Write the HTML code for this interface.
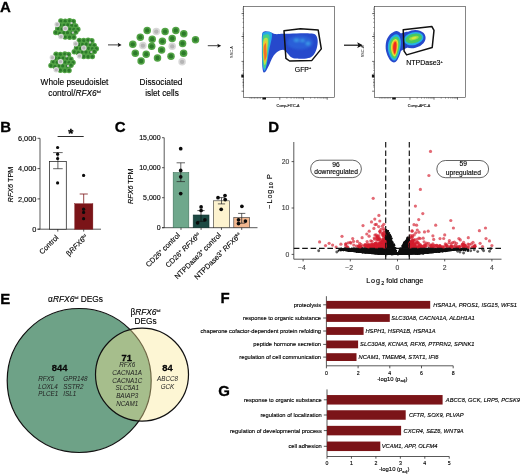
<!DOCTYPE html>
<html lang="en"><head><meta charset="utf-8"><title>Figure</title>
<style>
html,body{margin:0;padding:0;background:#fff;}
body{width:520px;height:474px;overflow:hidden;font-family:"Liberation Sans",Arial,sans-serif;}
svg{display:block}
svg text{font-family:"Liberation Sans",Arial,sans-serif;}
</style></head><body>
<svg width="520" height="474" viewBox="0 0 520 474">
<rect width="520" height="474" fill="#fff"/>
<g id="panelA">
<ellipse cx="66.8" cy="29" rx="11.5" ry="8.8" fill="#2f7f2c"/>
<circle cx="60.9" cy="21.1" r="2.75" fill="#52a345"/>
<circle cx="60.9" cy="21.1" r="1.59" fill="#2c7a2a"/>
<circle cx="65.2" cy="21.2" r="2.75" fill="#52a345"/>
<circle cx="65.2" cy="21.2" r="1.59" fill="#2c7a2a"/>
<circle cx="69.6" cy="20.8" r="2.75" fill="#52a345"/>
<circle cx="69.6" cy="20.8" r="1.59" fill="#2c7a2a"/>
<circle cx="73.3" cy="21.4" r="2.75" fill="#52a345"/>
<circle cx="73.3" cy="21.4" r="1.59" fill="#2c7a2a"/>
<circle cx="60.3" cy="25.0" r="2.75" fill="#52a345"/>
<circle cx="60.3" cy="25.0" r="1.59" fill="#2c7a2a"/>
<circle cx="64.1" cy="25.0" r="2.75" fill="#52a345"/>
<circle cx="64.1" cy="25.0" r="1.59" fill="#2c7a2a"/>
<circle cx="67.9" cy="24.8" r="2.75" fill="#52a345"/>
<circle cx="67.9" cy="24.8" r="1.59" fill="#2c7a2a"/>
<circle cx="71.8" cy="25.3" r="2.75" fill="#52a345"/>
<circle cx="71.8" cy="25.3" r="1.59" fill="#2c7a2a"/>
<circle cx="75.7" cy="26.0" r="2.75" fill="#52a345"/>
<circle cx="75.7" cy="26.0" r="1.59" fill="#2c7a2a"/>
<circle cx="58.1" cy="28.7" r="2.75" fill="#52a345"/>
<circle cx="58.1" cy="28.7" r="1.59" fill="#2c7a2a"/>
<circle cx="62.1" cy="29.1" r="2.75" fill="#52a345"/>
<circle cx="62.1" cy="29.1" r="1.59" fill="#2c7a2a"/>
<circle cx="70.1" cy="29.0" r="2.75" fill="#52a345"/>
<circle cx="70.1" cy="29.0" r="1.59" fill="#2c7a2a"/>
<circle cx="73.9" cy="29.3" r="2.75" fill="#52a345"/>
<circle cx="73.9" cy="29.3" r="1.59" fill="#2c7a2a"/>
<circle cx="77.8" cy="29.3" r="2.75" fill="#52a345"/>
<circle cx="77.8" cy="29.3" r="1.59" fill="#2c7a2a"/>
<circle cx="55.8" cy="32.4" r="2.75" fill="#52a345"/>
<circle cx="55.8" cy="32.4" r="1.59" fill="#2c7a2a"/>
<circle cx="59.8" cy="33.3" r="2.75" fill="#52a345"/>
<circle cx="59.8" cy="33.3" r="1.59" fill="#2c7a2a"/>
<circle cx="64.1" cy="32.6" r="2.75" fill="#52a345"/>
<circle cx="64.1" cy="32.6" r="1.59" fill="#2c7a2a"/>
<circle cx="67.5" cy="32.7" r="2.75" fill="#52a345"/>
<circle cx="67.5" cy="32.7" r="1.59" fill="#2c7a2a"/>
<circle cx="72.1" cy="32.9" r="2.75" fill="#52a345"/>
<circle cx="72.1" cy="32.9" r="1.59" fill="#2c7a2a"/>
<circle cx="75.8" cy="32.0" r="2.75" fill="#52a345"/>
<circle cx="75.8" cy="32.0" r="1.59" fill="#2c7a2a"/>
<circle cx="65.2" cy="37.0" r="2.75" fill="#52a345"/>
<circle cx="65.2" cy="37.0" r="1.59" fill="#2c7a2a"/>
<circle cx="69.6" cy="37.2" r="2.75" fill="#52a345"/>
<circle cx="69.6" cy="37.2" r="1.59" fill="#2c7a2a"/>
<circle cx="73.8" cy="37.2" r="2.75" fill="#52a345"/>
<circle cx="73.8" cy="37.2" r="1.59" fill="#2c7a2a"/>
<circle cx="57.2" cy="24.4" r="2.75" fill="#d8d8d8"/>
<circle cx="57.2" cy="24.4" r="1.59" fill="#b5b5b5"/>
<circle cx="65.3" cy="28.5" r="2.75" fill="#d8d8d8"/>
<circle cx="65.3" cy="28.5" r="1.59" fill="#b5b5b5"/>
<circle cx="61.0" cy="36.6" r="2.75" fill="#d8d8d8"/>
<circle cx="61.0" cy="36.6" r="1.59" fill="#b5b5b5"/>
<circle cx="72.8" cy="32.7" r="1.15" fill="#c8c8c8"/>
<circle cx="71.5" cy="23.1" r="1.15" fill="#c8c8c8"/>
<ellipse cx="85.3" cy="48.4" rx="11.5" ry="8.8" fill="#2f7f2c"/>
<circle cx="79.4" cy="40.5" r="2.75" fill="#52a345"/>
<circle cx="79.4" cy="40.5" r="1.59" fill="#2c7a2a"/>
<circle cx="83.7" cy="40.6" r="2.75" fill="#52a345"/>
<circle cx="83.7" cy="40.6" r="1.59" fill="#2c7a2a"/>
<circle cx="88.1" cy="40.2" r="2.75" fill="#52a345"/>
<circle cx="88.1" cy="40.2" r="1.59" fill="#2c7a2a"/>
<circle cx="91.8" cy="40.8" r="2.75" fill="#52a345"/>
<circle cx="91.8" cy="40.8" r="1.59" fill="#2c7a2a"/>
<circle cx="78.8" cy="44.4" r="2.75" fill="#52a345"/>
<circle cx="78.8" cy="44.4" r="1.59" fill="#2c7a2a"/>
<circle cx="82.6" cy="44.4" r="2.75" fill="#52a345"/>
<circle cx="82.6" cy="44.4" r="1.59" fill="#2c7a2a"/>
<circle cx="86.4" cy="44.2" r="2.75" fill="#52a345"/>
<circle cx="86.4" cy="44.2" r="1.59" fill="#2c7a2a"/>
<circle cx="90.3" cy="44.7" r="2.75" fill="#52a345"/>
<circle cx="90.3" cy="44.7" r="1.59" fill="#2c7a2a"/>
<circle cx="94.2" cy="45.4" r="2.75" fill="#52a345"/>
<circle cx="94.2" cy="45.4" r="1.59" fill="#2c7a2a"/>
<circle cx="76.6" cy="48.1" r="2.75" fill="#52a345"/>
<circle cx="76.6" cy="48.1" r="1.59" fill="#2c7a2a"/>
<circle cx="80.6" cy="48.5" r="2.75" fill="#52a345"/>
<circle cx="80.6" cy="48.5" r="1.59" fill="#2c7a2a"/>
<circle cx="88.6" cy="48.4" r="2.75" fill="#52a345"/>
<circle cx="88.6" cy="48.4" r="1.59" fill="#2c7a2a"/>
<circle cx="92.4" cy="48.7" r="2.75" fill="#52a345"/>
<circle cx="92.4" cy="48.7" r="1.59" fill="#2c7a2a"/>
<circle cx="96.3" cy="48.7" r="2.75" fill="#52a345"/>
<circle cx="96.3" cy="48.7" r="1.59" fill="#2c7a2a"/>
<circle cx="74.3" cy="51.8" r="2.75" fill="#52a345"/>
<circle cx="74.3" cy="51.8" r="1.59" fill="#2c7a2a"/>
<circle cx="78.3" cy="52.7" r="2.75" fill="#52a345"/>
<circle cx="78.3" cy="52.7" r="1.59" fill="#2c7a2a"/>
<circle cx="82.6" cy="52.0" r="2.75" fill="#52a345"/>
<circle cx="82.6" cy="52.0" r="1.59" fill="#2c7a2a"/>
<circle cx="86.0" cy="52.1" r="2.75" fill="#52a345"/>
<circle cx="86.0" cy="52.1" r="1.59" fill="#2c7a2a"/>
<circle cx="90.6" cy="52.3" r="2.75" fill="#52a345"/>
<circle cx="90.6" cy="52.3" r="1.59" fill="#2c7a2a"/>
<circle cx="94.3" cy="51.4" r="2.75" fill="#52a345"/>
<circle cx="94.3" cy="51.4" r="1.59" fill="#2c7a2a"/>
<circle cx="83.7" cy="56.4" r="2.75" fill="#52a345"/>
<circle cx="83.7" cy="56.4" r="1.59" fill="#2c7a2a"/>
<circle cx="88.1" cy="56.6" r="2.75" fill="#52a345"/>
<circle cx="88.1" cy="56.6" r="1.59" fill="#2c7a2a"/>
<circle cx="92.3" cy="56.6" r="2.75" fill="#52a345"/>
<circle cx="92.3" cy="56.6" r="1.59" fill="#2c7a2a"/>
<circle cx="75.7" cy="43.8" r="2.75" fill="#d8d8d8"/>
<circle cx="75.7" cy="43.8" r="1.59" fill="#b5b5b5"/>
<circle cx="83.8" cy="47.9" r="2.75" fill="#d8d8d8"/>
<circle cx="83.8" cy="47.9" r="1.59" fill="#b5b5b5"/>
<circle cx="79.5" cy="56.0" r="2.75" fill="#d8d8d8"/>
<circle cx="79.5" cy="56.0" r="1.59" fill="#b5b5b5"/>
<circle cx="91.3" cy="52.1" r="1.15" fill="#c8c8c8"/>
<circle cx="90.0" cy="42.5" r="1.15" fill="#c8c8c8"/>
<ellipse cx="62" cy="62.2" rx="11.5" ry="8.8" fill="#2f7f2c"/>
<circle cx="56.1" cy="54.3" r="2.75" fill="#52a345"/>
<circle cx="56.1" cy="54.3" r="1.59" fill="#2c7a2a"/>
<circle cx="60.4" cy="54.4" r="2.75" fill="#52a345"/>
<circle cx="60.4" cy="54.4" r="1.59" fill="#2c7a2a"/>
<circle cx="64.8" cy="54.0" r="2.75" fill="#52a345"/>
<circle cx="64.8" cy="54.0" r="1.59" fill="#2c7a2a"/>
<circle cx="68.5" cy="54.6" r="2.75" fill="#52a345"/>
<circle cx="68.5" cy="54.6" r="1.59" fill="#2c7a2a"/>
<circle cx="55.5" cy="58.2" r="2.75" fill="#52a345"/>
<circle cx="55.5" cy="58.2" r="1.59" fill="#2c7a2a"/>
<circle cx="59.3" cy="58.2" r="2.75" fill="#52a345"/>
<circle cx="59.3" cy="58.2" r="1.59" fill="#2c7a2a"/>
<circle cx="63.1" cy="58.0" r="2.75" fill="#52a345"/>
<circle cx="63.1" cy="58.0" r="1.59" fill="#2c7a2a"/>
<circle cx="67.0" cy="58.5" r="2.75" fill="#52a345"/>
<circle cx="67.0" cy="58.5" r="1.59" fill="#2c7a2a"/>
<circle cx="70.9" cy="59.2" r="2.75" fill="#52a345"/>
<circle cx="70.9" cy="59.2" r="1.59" fill="#2c7a2a"/>
<circle cx="53.3" cy="61.9" r="2.75" fill="#52a345"/>
<circle cx="53.3" cy="61.9" r="1.59" fill="#2c7a2a"/>
<circle cx="57.3" cy="62.3" r="2.75" fill="#52a345"/>
<circle cx="57.3" cy="62.3" r="1.59" fill="#2c7a2a"/>
<circle cx="65.3" cy="62.2" r="2.75" fill="#52a345"/>
<circle cx="65.3" cy="62.2" r="1.59" fill="#2c7a2a"/>
<circle cx="69.1" cy="62.5" r="2.75" fill="#52a345"/>
<circle cx="69.1" cy="62.5" r="1.59" fill="#2c7a2a"/>
<circle cx="73.0" cy="62.5" r="2.75" fill="#52a345"/>
<circle cx="73.0" cy="62.5" r="1.59" fill="#2c7a2a"/>
<circle cx="51.0" cy="65.6" r="2.75" fill="#52a345"/>
<circle cx="51.0" cy="65.6" r="1.59" fill="#2c7a2a"/>
<circle cx="55.0" cy="66.5" r="2.75" fill="#52a345"/>
<circle cx="55.0" cy="66.5" r="1.59" fill="#2c7a2a"/>
<circle cx="59.3" cy="65.8" r="2.75" fill="#52a345"/>
<circle cx="59.3" cy="65.8" r="1.59" fill="#2c7a2a"/>
<circle cx="62.7" cy="65.9" r="2.75" fill="#52a345"/>
<circle cx="62.7" cy="65.9" r="1.59" fill="#2c7a2a"/>
<circle cx="67.3" cy="66.1" r="2.75" fill="#52a345"/>
<circle cx="67.3" cy="66.1" r="1.59" fill="#2c7a2a"/>
<circle cx="71.0" cy="65.2" r="2.75" fill="#52a345"/>
<circle cx="71.0" cy="65.2" r="1.59" fill="#2c7a2a"/>
<circle cx="60.4" cy="70.2" r="2.75" fill="#52a345"/>
<circle cx="60.4" cy="70.2" r="1.59" fill="#2c7a2a"/>
<circle cx="64.8" cy="70.4" r="2.75" fill="#52a345"/>
<circle cx="64.8" cy="70.4" r="1.59" fill="#2c7a2a"/>
<circle cx="69.0" cy="70.4" r="2.75" fill="#52a345"/>
<circle cx="69.0" cy="70.4" r="1.59" fill="#2c7a2a"/>
<circle cx="52.4" cy="57.6" r="2.75" fill="#d8d8d8"/>
<circle cx="52.4" cy="57.6" r="1.59" fill="#b5b5b5"/>
<circle cx="60.5" cy="61.7" r="2.75" fill="#d8d8d8"/>
<circle cx="60.5" cy="61.7" r="1.59" fill="#b5b5b5"/>
<circle cx="56.2" cy="69.8" r="2.75" fill="#d8d8d8"/>
<circle cx="56.2" cy="69.8" r="1.59" fill="#b5b5b5"/>
<circle cx="68.0" cy="65.9" r="1.15" fill="#c8c8c8"/>
<circle cx="66.7" cy="56.3" r="1.15" fill="#c8c8c8"/>
<line x1="108" y1="44.9" x2="119.6" y2="44.9" stroke="#111" stroke-width="0.8"/>
<path d="M121.6,44.9 L117.69999999999999,42.85 L118.39999999999999,44.9 L117.69999999999999,46.949999999999996 Z" fill="#111"/>
<line x1="207.8" y1="45.7" x2="219.2" y2="45.7" stroke="#111" stroke-width="0.8"/>
<path d="M221.2,45.7 L217.29999999999998,43.650000000000006 L218.0,45.7 L217.29999999999998,47.75 Z" fill="#111"/>
<line x1="344" y1="45.2" x2="359.9" y2="45.2" stroke="#111" stroke-width="1.2"/>
<path d="M362.9,45.2 L357.2,42.300000000000004 L358.4,45.2 L357.2,48.1 Z" fill="#111"/>
<text x="74.5" y="85.3" font-size="8.3" text-anchor="middle" font-weight="normal" font-style="normal" fill="#000" stroke="#000" stroke-width="0.13" >Whole pseudoislet</text>
<text x="74.5" y="95.8" font-size="8.3" text-anchor="middle" font-weight="normal" font-style="normal" fill="#000" stroke="#000" stroke-width="0.13" >control/<tspan font-style="italic">RFX6</tspan><tspan font-size="3.8" dy="-3.0">kd</tspan></text>
<text x="161" y="85.3" font-size="8.3" text-anchor="middle" font-weight="normal" font-style="normal" fill="#000" stroke="#000" stroke-width="0.13" >Dissociated</text>
<text x="162" y="95.8" font-size="8.3" text-anchor="middle" font-weight="normal" font-style="normal" fill="#000" stroke="#000" stroke-width="0.13" >islet cells</text>
<circle cx="147.2" cy="30.4" r="3.75" fill="#52a345"/>
<circle cx="147.2" cy="30.4" r="2.17" fill="#2c7a2a"/>
<circle cx="165.1" cy="31.6" r="3.75" fill="#52a345"/>
<circle cx="165.1" cy="31.6" r="2.17" fill="#2c7a2a"/>
<circle cx="175.8" cy="30.4" r="3.75" fill="#52a345"/>
<circle cx="175.8" cy="30.4" r="2.17" fill="#2c7a2a"/>
<circle cx="183.8" cy="33.7" r="3.75" fill="#52a345"/>
<circle cx="183.8" cy="33.7" r="2.17" fill="#2c7a2a"/>
<circle cx="140.3" cy="37.2" r="3.75" fill="#52a345"/>
<circle cx="140.3" cy="37.2" r="2.17" fill="#2c7a2a"/>
<circle cx="152.2" cy="39.2" r="3.75" fill="#52a345"/>
<circle cx="152.2" cy="39.2" r="2.17" fill="#2c7a2a"/>
<circle cx="162.4" cy="41.3" r="3.75" fill="#52a345"/>
<circle cx="162.4" cy="41.3" r="2.17" fill="#2c7a2a"/>
<circle cx="172.2" cy="38.5" r="3.75" fill="#52a345"/>
<circle cx="172.2" cy="38.5" r="2.17" fill="#2c7a2a"/>
<circle cx="195.5" cy="39.7" r="3.75" fill="#52a345"/>
<circle cx="195.5" cy="39.7" r="2.17" fill="#2c7a2a"/>
<circle cx="132.8" cy="44.3" r="3.75" fill="#52a345"/>
<circle cx="132.8" cy="44.3" r="2.17" fill="#2c7a2a"/>
<circle cx="151.7" cy="46.3" r="3.75" fill="#52a345"/>
<circle cx="151.7" cy="46.3" r="2.17" fill="#2c7a2a"/>
<circle cx="182.6" cy="43.5" r="3.75" fill="#52a345"/>
<circle cx="182.6" cy="43.5" r="2.17" fill="#2c7a2a"/>
<circle cx="135.3" cy="53.2" r="3.75" fill="#52a345"/>
<circle cx="135.3" cy="53.2" r="2.17" fill="#2c7a2a"/>
<circle cx="146.2" cy="54.2" r="3.75" fill="#52a345"/>
<circle cx="146.2" cy="54.2" r="2.17" fill="#2c7a2a"/>
<circle cx="161.6" cy="50.1" r="3.75" fill="#52a345"/>
<circle cx="161.6" cy="50.1" r="2.17" fill="#2c7a2a"/>
<circle cx="183.6" cy="53.2" r="3.75" fill="#52a345"/>
<circle cx="183.6" cy="53.2" r="2.17" fill="#2c7a2a"/>
<circle cx="141.1" cy="61.0" r="3.75" fill="#52a345"/>
<circle cx="141.1" cy="61.0" r="2.17" fill="#2c7a2a"/>
<circle cx="157.5" cy="58.0" r="3.75" fill="#52a345"/>
<circle cx="157.5" cy="58.0" r="2.17" fill="#2c7a2a"/>
<circle cx="171.0" cy="56.2" r="3.75" fill="#52a345"/>
<circle cx="171.0" cy="56.2" r="2.17" fill="#2c7a2a"/>
<circle cx="156.3" cy="31.6" r="3.75" fill="#d8d8d8"/>
<circle cx="156.3" cy="31.6" r="2.17" fill="#b5b5b5"/>
<circle cx="142.9" cy="45.6" r="3.75" fill="#d8d8d8"/>
<circle cx="142.9" cy="45.6" r="2.17" fill="#b5b5b5"/>
<circle cx="172.2" cy="46.3" r="3.75" fill="#d8d8d8"/>
<circle cx="172.2" cy="46.3" r="2.17" fill="#b5b5b5"/>
<circle cx="182.1" cy="61.8" r="3.75" fill="#d8d8d8"/>
<circle cx="182.1" cy="61.8" r="2.17" fill="#b5b5b5"/>
<defs><filter id="bl" x="-20%" y="-20%" width="140%" height="140%"><feGaussianBlur stdDeviation="0.5"/></filter><filter id="bl2" x="-20%" y="-20%" width="140%" height="140%"><feGaussianBlur stdDeviation="0.9"/></filter></defs>
<rect x="243.7" y="6.6" width="91" height="90.9" fill="#fff" stroke="#222" stroke-width="0.55"/>
<g filter="url(#bl)">
<path d="M262.06,34.80 C262.46,32.25 263.11,32.07 264.34,31.57 C265.58,31.08 267.71,31.44 269.46,31.84 C271.21,32.25 272.60,33.66 274.84,34.00 C277.09,34.33 279.33,33.95 282.92,33.86 C286.51,33.77 291.89,33.53 296.38,33.46 C300.86,33.39 306.70,33.28 309.84,33.46 C312.98,33.64 313.92,33.41 315.22,34.54 C316.52,35.66 317.42,37.79 317.64,40.19 C317.87,42.59 317.42,46.29 316.57,48.94 C315.71,51.58 314.21,54.48 312.53,56.07 C310.85,57.66 309.16,58.09 306.47,58.49 C303.78,58.90 298.91,58.72 296.38,58.49 C293.84,58.27 292.72,58.00 291.26,57.15 C289.80,56.29 288.91,54.59 287.63,53.38 C286.35,52.17 285.27,50.15 283.59,49.88 C281.91,49.61 279.33,50.57 277.53,51.76 C275.74,52.95 274.28,54.68 272.82,57.01 C271.37,59.34 270.02,63.32 268.79,65.76 C267.55,68.21 266.39,70.79 265.42,71.68 C264.46,72.58 263.56,73.03 263.00,71.14 C262.44,69.26 262.24,64.41 262.06,60.38 C261.88,56.34 261.92,51.18 261.92,46.92 C261.92,42.66 261.65,37.36 262.06,34.80 Z" fill="#2748cc"/>
</g>
<g filter="url(#bl2)">
<ellipse cx="300" cy="42.5" rx="13" ry="7" fill="#2c5fd8"/>
<ellipse cx="296.5" cy="40.2" rx="2.8" ry="1.8" fill="#3a97e6"/>
<ellipse cx="302.5" cy="40.6" rx="2.4" ry="1.7" fill="#3a97e6"/>
<ellipse cx="308" cy="43.6" rx="2.4" ry="2" fill="#3a97e6"/>
</g>
<g filter="url(#bl)">
<path d="M262.33,35.75 C262.62,32.54 262.35,32.76 263.94,32.38 C265.53,32.00 271.01,30.48 271.88,33.46 C272.76,36.44 270.13,44.72 269.19,50.28 C268.25,55.85 267.04,63.41 266.23,66.84 C265.42,70.27 264.95,71.10 264.34,70.87 C263.74,70.65 262.95,68.70 262.59,65.49 C262.24,62.28 262.24,56.59 262.19,51.63 C262.15,46.67 262.03,38.95 262.33,35.75 Z" fill="#27a9e6"/>
<path d="M262.73,38.17 C263.02,35.37 263.22,35.19 264.34,34.80 C265.47,34.42 268.84,33.30 269.46,35.88 C270.08,38.46 268.56,45.53 268.05,50.28 C267.53,55.04 266.96,61.39 266.36,64.41 C265.77,67.44 265.04,68.68 264.48,68.45 C263.92,68.23 263.31,65.87 263.00,63.07 C262.68,60.26 262.64,55.78 262.59,51.63 C262.55,47.48 262.44,40.97 262.73,38.17 Z" fill="#43cf8a"/>
<path d="M263.13,41.53 C263.42,39.29 263.96,38.55 264.75,38.17 C265.53,37.79 267.42,37.23 267.84,39.25 C268.27,41.27 267.53,46.65 267.31,50.28 C267.08,53.92 266.95,58.58 266.50,61.05 C266.05,63.52 265.13,65.31 264.61,65.09 C264.10,64.86 263.67,61.95 263.40,59.70 C263.13,57.46 263.04,54.66 263.00,51.63 C262.95,48.60 262.84,43.78 263.13,41.53 Z" fill="#b7e04a"/>
<path d="M263.54,44.23 C263.83,42.43 264.61,41.24 265.15,40.86 C265.69,40.48 266.49,40.37 266.77,41.94 C267.05,43.51 266.86,47.55 266.83,50.28 C266.81,53.02 266.98,56.34 266.63,58.36 C266.28,60.38 265.22,62.62 264.75,62.40 C264.28,62.17 264.03,58.81 263.81,57.01 C263.58,55.22 263.45,53.76 263.40,51.63 C263.36,49.50 263.25,46.02 263.54,44.23 Z" fill="#f2c230"/>
<path d="M263.81,46.51 C264.10,45.08 265.06,43.53 265.42,43.15 C265.78,42.77 265.79,43.01 265.96,44.23 C266.13,45.44 266.32,48.40 266.43,50.42 C266.54,52.44 266.91,54.68 266.63,56.34 C266.35,58.00 265.17,60.60 264.75,60.38 C264.32,60.15 264.25,56.43 264.08,54.99 C263.90,53.56 263.72,53.18 263.67,51.76 C263.63,50.35 263.51,47.95 263.81,46.51 Z" fill="#f0702a"/>
</g>
<path d="M284.0,30.8 L300.4,28.7 L318.2,30.1 L321.3,48.9 L311.9,60.4 L289.6,61.0 L285.9,58.4 Z" fill="none" stroke="#111" stroke-width="1.5" stroke-linejoin="round"/>
<text x="294.8" y="71.8" font-size="6.9" text-anchor="start" font-weight="normal" font-style="normal" fill="#000" stroke="#000" stroke-width="0.13" >GFP<tspan font-size="3.8" dy="-2.6">+</tspan></text>
<line x1="241.5" y1="91.2" x2="243.7" y2="91.2" stroke="#111" stroke-width="0.6"/>
<line x1="242.5" y1="82.2" x2="243.7" y2="82.2" stroke="#111" stroke-width="0.4"/>
<line x1="242.5" y1="77.0" x2="243.7" y2="77.0" stroke="#111" stroke-width="0.4"/>
<line x1="242.5" y1="73.3" x2="243.7" y2="73.3" stroke="#111" stroke-width="0.4"/>
<line x1="242.5" y1="70.4" x2="243.7" y2="70.4" stroke="#111" stroke-width="0.4"/>
<line x1="242.5" y1="68.0" x2="243.7" y2="68.0" stroke="#111" stroke-width="0.4"/>
<line x1="242.5" y1="66.0" x2="243.7" y2="66.0" stroke="#111" stroke-width="0.4"/>
<line x1="242.5" y1="64.3" x2="243.7" y2="64.3" stroke="#111" stroke-width="0.4"/>
<line x1="242.5" y1="62.8" x2="243.7" y2="62.8" stroke="#111" stroke-width="0.4"/>
<line x1="241.5" y1="61.4" x2="243.7" y2="61.4" stroke="#111" stroke-width="0.6"/>
<line x1="242.5" y1="52.4" x2="243.7" y2="52.4" stroke="#111" stroke-width="0.4"/>
<line x1="242.5" y1="47.2" x2="243.7" y2="47.2" stroke="#111" stroke-width="0.4"/>
<line x1="242.5" y1="43.5" x2="243.7" y2="43.5" stroke="#111" stroke-width="0.4"/>
<line x1="242.5" y1="40.6" x2="243.7" y2="40.6" stroke="#111" stroke-width="0.4"/>
<line x1="242.5" y1="38.2" x2="243.7" y2="38.2" stroke="#111" stroke-width="0.4"/>
<line x1="242.5" y1="36.2" x2="243.7" y2="36.2" stroke="#111" stroke-width="0.4"/>
<line x1="242.5" y1="34.5" x2="243.7" y2="34.5" stroke="#111" stroke-width="0.4"/>
<line x1="242.5" y1="33.0" x2="243.7" y2="33.0" stroke="#111" stroke-width="0.4"/>
<line x1="241.5" y1="36.5" x2="243.7" y2="36.5" stroke="#111" stroke-width="0.6"/>
<line x1="242.5" y1="27.5" x2="243.7" y2="27.5" stroke="#111" stroke-width="0.4"/>
<line x1="242.5" y1="22.3" x2="243.7" y2="22.3" stroke="#111" stroke-width="0.4"/>
<line x1="242.5" y1="18.6" x2="243.7" y2="18.6" stroke="#111" stroke-width="0.4"/>
<line x1="242.5" y1="15.7" x2="243.7" y2="15.7" stroke="#111" stroke-width="0.4"/>
<line x1="242.5" y1="13.3" x2="243.7" y2="13.3" stroke="#111" stroke-width="0.4"/>
<line x1="242.5" y1="11.3" x2="243.7" y2="11.3" stroke="#111" stroke-width="0.4"/>
<line x1="242.5" y1="9.6" x2="243.7" y2="9.6" stroke="#111" stroke-width="0.4"/>
<line x1="242.5" y1="8.1" x2="243.7" y2="8.1" stroke="#111" stroke-width="0.4"/>
<line x1="241.5" y1="13.6" x2="243.7" y2="13.6" stroke="#111" stroke-width="0.6"/>
<rect x="241.29999999999998" y="74.5" width="2.4" height="3" fill="#111"/>
<line x1="242.5" y1="79.5" x2="243.7" y2="79.5" stroke="#111" stroke-width="0.4"/>
<line x1="242.5" y1="81.0" x2="243.7" y2="81.0" stroke="#111" stroke-width="0.4"/>
<line x1="242.5" y1="82.5" x2="243.7" y2="82.5" stroke="#111" stroke-width="0.4"/>
<line x1="242.5" y1="84.0" x2="243.7" y2="84.0" stroke="#111" stroke-width="0.4"/>
<line x1="242.5" y1="85.5" x2="243.7" y2="85.5" stroke="#111" stroke-width="0.4"/>
<line x1="242.5" y1="87.0" x2="243.7" y2="87.0" stroke="#111" stroke-width="0.4"/>
<line x1="279.8" y1="97.5" x2="279.8" y2="99.7" stroke="#111" stroke-width="0.6"/>
<line x1="286.9" y1="97.5" x2="286.9" y2="98.7" stroke="#111" stroke-width="0.4"/>
<line x1="291.1" y1="97.5" x2="291.1" y2="98.7" stroke="#111" stroke-width="0.4"/>
<line x1="294.1" y1="97.5" x2="294.1" y2="98.7" stroke="#111" stroke-width="0.4"/>
<line x1="296.4" y1="97.5" x2="296.4" y2="98.7" stroke="#111" stroke-width="0.4"/>
<line x1="298.2" y1="97.5" x2="298.2" y2="98.7" stroke="#111" stroke-width="0.4"/>
<line x1="299.8" y1="97.5" x2="299.8" y2="98.7" stroke="#111" stroke-width="0.4"/>
<line x1="301.2" y1="97.5" x2="301.2" y2="98.7" stroke="#111" stroke-width="0.4"/>
<line x1="302.4" y1="97.5" x2="302.4" y2="98.7" stroke="#111" stroke-width="0.4"/>
<line x1="303.5" y1="97.5" x2="303.5" y2="99.7" stroke="#111" stroke-width="0.6"/>
<line x1="310.6" y1="97.5" x2="310.6" y2="98.7" stroke="#111" stroke-width="0.4"/>
<line x1="314.8" y1="97.5" x2="314.8" y2="98.7" stroke="#111" stroke-width="0.4"/>
<line x1="317.8" y1="97.5" x2="317.8" y2="98.7" stroke="#111" stroke-width="0.4"/>
<line x1="320.1" y1="97.5" x2="320.1" y2="98.7" stroke="#111" stroke-width="0.4"/>
<line x1="321.9" y1="97.5" x2="321.9" y2="98.7" stroke="#111" stroke-width="0.4"/>
<line x1="323.5" y1="97.5" x2="323.5" y2="98.7" stroke="#111" stroke-width="0.4"/>
<line x1="324.9" y1="97.5" x2="324.9" y2="98.7" stroke="#111" stroke-width="0.4"/>
<line x1="326.1" y1="97.5" x2="326.1" y2="98.7" stroke="#111" stroke-width="0.4"/>
<line x1="327.2" y1="97.5" x2="327.2" y2="99.7" stroke="#111" stroke-width="0.6"/>
<rect x="262.4" y="97.5" width="3.6" height="2" fill="#111"/>
<line x1="260.5" y1="97.5" x2="260.5" y2="98.7" stroke="#111" stroke-width="0.4"/>
<line x1="259.0" y1="97.5" x2="259.0" y2="98.7" stroke="#111" stroke-width="0.4"/>
<line x1="257.5" y1="97.5" x2="257.5" y2="98.7" stroke="#111" stroke-width="0.4"/>
<line x1="256.0" y1="97.5" x2="256.0" y2="98.7" stroke="#111" stroke-width="0.4"/>
<line x1="254.5" y1="97.5" x2="254.5" y2="98.7" stroke="#111" stroke-width="0.4"/>
<line x1="253.0" y1="97.5" x2="253.0" y2="98.7" stroke="#111" stroke-width="0.4"/>
<line x1="251.5" y1="97.5" x2="251.5" y2="98.7" stroke="#111" stroke-width="0.4"/>
<line x1="250.0" y1="97.5" x2="250.0" y2="98.7" stroke="#111" stroke-width="0.4"/>
<text x="288" y="106.8" font-size="3.7" text-anchor="middle" font-weight="normal" font-style="normal" fill="#111" stroke="#111" stroke-width="0.13" >Comp-FITC-A</text>
<text transform="translate(233.3,52) rotate(-90)" font-size="3.9" text-anchor="middle" fill="#111">SSC-A</text>
<rect x="374.3" y="6.4" width="91.1" height="91.1" fill="#fff" stroke="#222" stroke-width="0.55"/>
<g filter="url(#bl)">
<path d="M391.78,33.02 C393.12,32.09 394.96,30.86 396.46,30.92 C397.96,30.98 399.74,32.05 400.77,33.38 C401.79,34.72 402.35,37.08 402.62,38.92 C402.88,40.77 402.62,42.57 402.37,44.46 C402.12,46.35 401.67,48.30 401.14,50.25 C400.61,52.19 399.91,54.39 399.17,56.15 C398.43,57.92 397.57,59.76 396.71,60.83 C395.85,61.90 394.96,62.51 394.00,62.55 C393.04,62.59 391.91,62.04 390.92,61.08 C389.94,60.11 388.89,58.41 388.09,56.77 C387.29,55.13 386.53,52.97 386.12,51.23 C385.71,49.49 385.59,48.05 385.63,46.31 C385.67,44.56 385.90,42.41 386.37,40.77 C386.84,39.13 387.56,37.75 388.46,36.46 C389.36,35.17 390.45,33.94 391.78,33.02 Z" fill="#2748cc"/>
<ellipse cx="413.45" cy="39.17" rx="12.31" ry="8.86" fill="#2748cc" transform="rotate(-14 413.45 39.17)"/>
<path d="M398.9,34.0 L407.5,31.5 L407.5,47.5 L400.2,51.2 Z" fill="#2748cc"/>
<path d="M392.57,36.10 C393.60,35.34 395.02,34.32 396.17,34.37 C397.32,34.42 398.69,35.30 399.47,36.41 C400.26,37.51 400.69,39.47 400.89,41.00 C401.10,42.53 400.89,44.03 400.70,45.59 C400.51,47.15 400.17,48.77 399.76,50.38 C399.35,52.00 398.81,53.82 398.25,55.28 C397.68,56.74 397.02,58.27 396.35,59.16 C395.69,60.04 395.02,60.55 394.27,60.58 C393.53,60.62 392.67,60.16 391.91,59.36 C391.15,58.56 390.35,57.15 389.74,55.79 C389.12,54.43 388.54,52.65 388.22,51.20 C387.91,49.76 387.81,48.56 387.85,47.12 C387.88,45.67 388.05,43.89 388.41,42.53 C388.78,41.17 389.33,40.03 390.02,38.96 C390.71,37.89 391.55,36.87 392.57,36.10 Z" fill="#25b0e8"/>
<ellipse cx="413.57" cy="38.68" rx="10.09" ry="6.40" fill="#25b0e8" transform="rotate(-14 413.57 38.68)"/>
<path d="M393.07,37.93 C393.88,37.28 395.00,36.42 395.92,36.46 C396.83,36.50 397.91,37.25 398.54,38.19 C399.16,39.12 399.50,40.77 399.66,42.06 C399.82,43.36 399.66,44.62 399.51,45.94 C399.36,47.27 399.09,48.63 398.76,50.00 C398.44,51.36 398.01,52.90 397.56,54.13 C397.11,55.37 396.59,56.66 396.07,57.41 C395.54,58.16 395.00,58.59 394.42,58.62 C393.83,58.64 393.14,58.26 392.54,57.58 C391.95,56.91 391.31,55.71 390.82,54.56 C390.33,53.41 389.87,51.91 389.62,50.68 C389.37,49.46 389.30,48.46 389.32,47.24 C389.35,46.02 389.49,44.51 389.77,43.36 C390.06,42.21 390.50,41.25 391.05,40.34 C391.60,39.44 392.26,38.57 393.07,37.93 Z" fill="#4fcf63"/>
<ellipse cx="413.69" cy="38.43" rx="8.37" ry="4.68" fill="#46c95e" transform="rotate(-14 413.69 38.43)"/>
<path d="M393.63,40.08 C394.19,39.57 394.97,38.89 395.60,38.92 C396.23,38.96 396.98,39.55 397.41,40.28 C397.84,41.02 398.07,42.32 398.18,43.34 C398.30,44.36 398.18,45.36 398.08,46.40 C397.98,47.45 397.79,48.52 397.56,49.60 C397.34,50.68 397.05,51.89 396.74,52.86 C396.43,53.84 396.06,54.86 395.70,55.45 C395.34,56.04 394.97,56.38 394.56,56.40 C394.16,56.42 393.68,56.12 393.27,55.58 C392.86,55.05 392.42,54.11 392.08,53.20 C391.74,52.30 391.43,51.11 391.25,50.14 C391.08,49.18 391.03,48.39 391.05,47.42 C391.06,46.46 391.16,45.27 391.36,44.36 C391.55,43.46 391.86,42.70 392.24,41.98 C392.62,41.27 393.07,40.59 393.63,40.08 Z" fill="#e8e436"/>
<ellipse cx="413.94" cy="38.06" rx="4.92" ry="1.97" fill="#9bdc46" transform="rotate(-14 413.94 38.06)"/>
<path d="M394.03,41.36 C394.43,40.94 394.99,40.37 395.45,40.40 C395.91,40.43 396.45,40.92 396.76,41.53 C397.07,42.14 397.24,43.23 397.32,44.07 C397.40,44.92 397.32,45.75 397.25,46.62 C397.17,47.48 397.04,48.38 396.87,49.27 C396.71,50.17 396.50,51.17 396.27,51.98 C396.05,52.79 395.79,53.64 395.53,54.13 C395.26,54.62 394.99,54.90 394.70,54.92 C394.41,54.94 394.06,54.69 393.76,54.24 C393.46,53.80 393.15,53.02 392.90,52.27 C392.66,51.51 392.43,50.52 392.30,49.72 C392.18,48.92 392.14,48.26 392.15,47.46 C392.17,46.66 392.24,45.67 392.38,44.92 C392.52,44.17 392.74,43.54 393.02,42.94 C393.29,42.35 393.62,41.78 394.03,41.36 Z" fill="#f59a25"/>
<ellipse cx="414.06" cy="37.94" rx="2.71" ry="0.98" fill="#dbe63a" transform="rotate(-14 414.06 37.94)"/>
<path d="M394.34,42.43 C394.60,42.08 394.96,41.61 395.26,41.63 C395.55,41.65 395.90,42.06 396.10,42.57 C396.30,43.08 396.41,43.98 396.46,44.68 C396.51,45.39 396.46,46.07 396.41,46.79 C396.37,47.51 396.28,48.26 396.17,49.00 C396.07,49.74 395.93,50.58 395.79,51.25 C395.64,51.92 395.47,52.63 395.31,53.04 C395.14,53.44 394.96,53.68 394.78,53.69 C394.59,53.71 394.37,53.50 394.17,53.13 C393.98,52.76 393.78,52.11 393.62,51.49 C393.46,50.86 393.32,50.04 393.23,49.37 C393.15,48.71 393.13,48.16 393.14,47.50 C393.15,46.83 393.19,46.01 393.28,45.39 C393.38,44.76 393.52,44.24 393.69,43.74 C393.87,43.25 394.08,42.78 394.34,42.43 Z" fill="#ee2a22"/>
</g>
<path d="M403.2,29.7 L431.8,26.4 L434.0,30.3 L432.2,47.5 L406.6,54.9 L404.1,51.2 Z" fill="none" stroke="#111" stroke-width="1.5" stroke-linejoin="round"/>
<text x="406.2" y="65.4" font-size="7.0" text-anchor="start" font-weight="normal" font-style="normal" fill="#000" stroke="#000" stroke-width="0.13" >NTPDase3<tspan font-size="3.8" dy="-2.6">+</tspan></text>
<line x1="372.1" y1="91.2" x2="374.3" y2="91.2" stroke="#111" stroke-width="0.6"/>
<line x1="373.1" y1="82.2" x2="374.3" y2="82.2" stroke="#111" stroke-width="0.4"/>
<line x1="373.1" y1="77.0" x2="374.3" y2="77.0" stroke="#111" stroke-width="0.4"/>
<line x1="373.1" y1="73.3" x2="374.3" y2="73.3" stroke="#111" stroke-width="0.4"/>
<line x1="373.1" y1="70.4" x2="374.3" y2="70.4" stroke="#111" stroke-width="0.4"/>
<line x1="373.1" y1="68.0" x2="374.3" y2="68.0" stroke="#111" stroke-width="0.4"/>
<line x1="373.1" y1="66.0" x2="374.3" y2="66.0" stroke="#111" stroke-width="0.4"/>
<line x1="373.1" y1="64.3" x2="374.3" y2="64.3" stroke="#111" stroke-width="0.4"/>
<line x1="373.1" y1="62.8" x2="374.3" y2="62.8" stroke="#111" stroke-width="0.4"/>
<line x1="372.1" y1="61.4" x2="374.3" y2="61.4" stroke="#111" stroke-width="0.6"/>
<line x1="373.1" y1="52.4" x2="374.3" y2="52.4" stroke="#111" stroke-width="0.4"/>
<line x1="373.1" y1="47.2" x2="374.3" y2="47.2" stroke="#111" stroke-width="0.4"/>
<line x1="373.1" y1="43.5" x2="374.3" y2="43.5" stroke="#111" stroke-width="0.4"/>
<line x1="373.1" y1="40.6" x2="374.3" y2="40.6" stroke="#111" stroke-width="0.4"/>
<line x1="373.1" y1="38.2" x2="374.3" y2="38.2" stroke="#111" stroke-width="0.4"/>
<line x1="373.1" y1="36.2" x2="374.3" y2="36.2" stroke="#111" stroke-width="0.4"/>
<line x1="373.1" y1="34.5" x2="374.3" y2="34.5" stroke="#111" stroke-width="0.4"/>
<line x1="373.1" y1="33.0" x2="374.3" y2="33.0" stroke="#111" stroke-width="0.4"/>
<line x1="372.1" y1="36.5" x2="374.3" y2="36.5" stroke="#111" stroke-width="0.6"/>
<line x1="373.1" y1="27.5" x2="374.3" y2="27.5" stroke="#111" stroke-width="0.4"/>
<line x1="373.1" y1="22.3" x2="374.3" y2="22.3" stroke="#111" stroke-width="0.4"/>
<line x1="373.1" y1="18.6" x2="374.3" y2="18.6" stroke="#111" stroke-width="0.4"/>
<line x1="373.1" y1="15.7" x2="374.3" y2="15.7" stroke="#111" stroke-width="0.4"/>
<line x1="373.1" y1="13.3" x2="374.3" y2="13.3" stroke="#111" stroke-width="0.4"/>
<line x1="373.1" y1="11.3" x2="374.3" y2="11.3" stroke="#111" stroke-width="0.4"/>
<line x1="373.1" y1="9.6" x2="374.3" y2="9.6" stroke="#111" stroke-width="0.4"/>
<line x1="373.1" y1="8.1" x2="374.3" y2="8.1" stroke="#111" stroke-width="0.4"/>
<line x1="372.1" y1="13.6" x2="374.3" y2="13.6" stroke="#111" stroke-width="0.6"/>
<rect x="371.90000000000003" y="74.5" width="2.4" height="3" fill="#111"/>
<line x1="373.1" y1="79.5" x2="374.3" y2="79.5" stroke="#111" stroke-width="0.4"/>
<line x1="373.1" y1="81.0" x2="374.3" y2="81.0" stroke="#111" stroke-width="0.4"/>
<line x1="373.1" y1="82.5" x2="374.3" y2="82.5" stroke="#111" stroke-width="0.4"/>
<line x1="373.1" y1="84.0" x2="374.3" y2="84.0" stroke="#111" stroke-width="0.4"/>
<line x1="373.1" y1="85.5" x2="374.3" y2="85.5" stroke="#111" stroke-width="0.4"/>
<line x1="373.1" y1="87.0" x2="374.3" y2="87.0" stroke="#111" stroke-width="0.4"/>
<line x1="410" y1="97.5" x2="410" y2="99.7" stroke="#111" stroke-width="0.6"/>
<line x1="417.2" y1="97.5" x2="417.2" y2="98.7" stroke="#111" stroke-width="0.4"/>
<line x1="421.5" y1="97.5" x2="421.5" y2="98.7" stroke="#111" stroke-width="0.4"/>
<line x1="424.4" y1="97.5" x2="424.4" y2="98.7" stroke="#111" stroke-width="0.4"/>
<line x1="426.8" y1="97.5" x2="426.8" y2="98.7" stroke="#111" stroke-width="0.4"/>
<line x1="428.7" y1="97.5" x2="428.7" y2="98.7" stroke="#111" stroke-width="0.4"/>
<line x1="430.3" y1="97.5" x2="430.3" y2="98.7" stroke="#111" stroke-width="0.4"/>
<line x1="431.7" y1="97.5" x2="431.7" y2="98.7" stroke="#111" stroke-width="0.4"/>
<line x1="432.9" y1="97.5" x2="432.9" y2="98.7" stroke="#111" stroke-width="0.4"/>
<line x1="434" y1="97.5" x2="434" y2="99.7" stroke="#111" stroke-width="0.6"/>
<line x1="441.2" y1="97.5" x2="441.2" y2="98.7" stroke="#111" stroke-width="0.4"/>
<line x1="445.5" y1="97.5" x2="445.5" y2="98.7" stroke="#111" stroke-width="0.4"/>
<line x1="448.4" y1="97.5" x2="448.4" y2="98.7" stroke="#111" stroke-width="0.4"/>
<line x1="450.8" y1="97.5" x2="450.8" y2="98.7" stroke="#111" stroke-width="0.4"/>
<line x1="452.7" y1="97.5" x2="452.7" y2="98.7" stroke="#111" stroke-width="0.4"/>
<line x1="454.3" y1="97.5" x2="454.3" y2="98.7" stroke="#111" stroke-width="0.4"/>
<line x1="455.7" y1="97.5" x2="455.7" y2="98.7" stroke="#111" stroke-width="0.4"/>
<line x1="456.9" y1="97.5" x2="456.9" y2="98.7" stroke="#111" stroke-width="0.4"/>
<line x1="457.5" y1="97.5" x2="457.5" y2="99.7" stroke="#111" stroke-width="0.6"/>
<rect x="392.2" y="97.5" width="3.6" height="2" fill="#111"/>
<line x1="390.3" y1="97.5" x2="390.3" y2="98.7" stroke="#111" stroke-width="0.4"/>
<line x1="388.8" y1="97.5" x2="388.8" y2="98.7" stroke="#111" stroke-width="0.4"/>
<line x1="387.3" y1="97.5" x2="387.3" y2="98.7" stroke="#111" stroke-width="0.4"/>
<line x1="385.8" y1="97.5" x2="385.8" y2="98.7" stroke="#111" stroke-width="0.4"/>
<line x1="384.3" y1="97.5" x2="384.3" y2="98.7" stroke="#111" stroke-width="0.4"/>
<line x1="382.8" y1="97.5" x2="382.8" y2="98.7" stroke="#111" stroke-width="0.4"/>
<line x1="381.3" y1="97.5" x2="381.3" y2="98.7" stroke="#111" stroke-width="0.4"/>
<line x1="379.8" y1="97.5" x2="379.8" y2="98.7" stroke="#111" stroke-width="0.4"/>
<text x="419" y="106.8" font-size="3.7" text-anchor="middle" font-weight="normal" font-style="normal" fill="#111" stroke="#111" stroke-width="0.13" >Comp-APC-A</text>
<text transform="translate(364,51.4) rotate(-90)" font-size="3.9" text-anchor="middle" fill="#111">SSC-A</text>
</g>
<text x="0.1" y="12.1" font-size="15" font-weight="bold" fill="#000" stroke="#000" stroke-width="0.3">A</text>
<g id="panelB">
<text x="0.2" y="131.9" font-size="15" font-weight="bold" fill="#000" stroke="#000" stroke-width="0.3">B</text>
<line x1="40.0" y1="138.29999999999998" x2="40.0" y2="229.2" stroke="#222" stroke-width="0.75"/>
<line x1="37.5" y1="229.2" x2="101" y2="229.2" stroke="#222" stroke-width="0.75"/>
<line x1="37.5" y1="138.29999999999998" x2="40.0" y2="138.29999999999998" stroke="#222" stroke-width="0.75"/>
<text x="36.4" y="140.89999999999998" font-size="7.4" text-anchor="end" font-weight="normal" font-style="normal" fill="#000" stroke="#000" stroke-width="0.13" >6,000</text>
<line x1="37.5" y1="168.6" x2="40.0" y2="168.6" stroke="#222" stroke-width="0.75"/>
<text x="36.4" y="171.2" font-size="7.4" text-anchor="end" font-weight="normal" font-style="normal" fill="#000" stroke="#000" stroke-width="0.13" >4,000</text>
<line x1="37.5" y1="198.89999999999998" x2="40.0" y2="198.89999999999998" stroke="#222" stroke-width="0.75"/>
<text x="36.4" y="201.49999999999997" font-size="7.4" text-anchor="end" font-weight="normal" font-style="normal" fill="#000" stroke="#000" stroke-width="0.13" >2,000</text>
<line x1="37.5" y1="229.2" x2="40.0" y2="229.2" stroke="#222" stroke-width="0.75"/>
<text x="36.4" y="231.79999999999998" font-size="7.4" text-anchor="end" font-weight="normal" font-style="normal" fill="#000" stroke="#000" stroke-width="0.13" >0</text>
<rect x="49.4" y="161.4" width="16.9" height="67.79999999999998" fill="#fff" stroke="#222" stroke-width="0.75"/>
<rect x="74.7" y="203.7" width="18.2" height="25.5" fill="#7b1418" stroke="#7b1418" stroke-width="0.4"/>
<line x1="57.8" y1="229.2" x2="57.8" y2="231.6" stroke="#222" stroke-width="0.75"/>
<line x1="83.7" y1="229.2" x2="83.7" y2="231.6" stroke="#222" stroke-width="0.75"/>
<path d="M53.1,152.6 H62.699999999999996 M57.9,152.6 V168.7 M53.1,168.7 H62.699999999999996" stroke="#222" stroke-width="0.7" fill="none"/>
<path d="M79.7,194 H87.8 M83.7,194 V203.7" stroke="#7b1418" stroke-width="0.8" fill="none"/>
<circle cx="57.6" cy="147.5" r="1.6" fill="#0a0a0a"/>
<circle cx="57.6" cy="154.2" r="1.6" fill="#0a0a0a"/>
<circle cx="57.6" cy="158.5" r="1.6" fill="#0a0a0a"/>
<circle cx="57.6" cy="182.9" r="1.6" fill="#0a0a0a"/>
<circle cx="83.6" cy="175.4" r="1.6" fill="#0a0a0a"/>
<circle cx="83.6" cy="209.2" r="1.6" fill="#0a0a0a"/>
<circle cx="83.6" cy="212.4" r="1.6" fill="#0a0a0a"/>
<circle cx="83.6" cy="218.7" r="1.6" fill="#0a0a0a"/>
<line x1="57.6" y1="136.5" x2="83.7" y2="136.5" stroke="#222" stroke-width="0.95"/>
<text x="70.7" y="137.6" font-size="13" text-anchor="middle" font-weight="bold" fill="#000" stroke="#000" stroke-width="0.35">*</text>
<text transform="translate(13.4,184.6) rotate(-90)" font-size="7.3" text-anchor="middle" fill="#000" stroke="#000" stroke-width="0.13"><tspan font-style="italic">RFX6</tspan> TPM</text>
<text transform="translate(58.9,238.0) rotate(-45)" font-size="7.3" text-anchor="end" fill="#000" stroke="#000" stroke-width="0.13">Control</text>
<text transform="translate(88.1,237.4) rotate(-45)" font-size="7.3" text-anchor="end" fill="#000" stroke="#000" stroke-width="0.13">β<tspan font-style="italic">RFX6</tspan><tspan font-size="3.8" dy="-2.7">kd</tspan></text>
</g>
<g id="panelC">
<text x="114.8" y="131.9" font-size="15" font-weight="bold" fill="#000" stroke="#000" stroke-width="0.3">C</text>
<line x1="164.2" y1="137.7" x2="164.2" y2="227.7" stroke="#222" stroke-width="0.75"/>
<line x1="162" y1="227.7" x2="257.5" y2="227.7" stroke="#222" stroke-width="0.75"/>
<line x1="162" y1="137.7" x2="164.2" y2="137.7" stroke="#222" stroke-width="0.75"/>
<text x="160.6" y="140.2" font-size="7.0" text-anchor="end" font-weight="normal" font-style="normal" fill="#000" stroke="#000" stroke-width="0.13" >15,000</text>
<line x1="162" y1="167.7" x2="164.2" y2="167.7" stroke="#222" stroke-width="0.75"/>
<text x="160.6" y="170.2" font-size="7.0" text-anchor="end" font-weight="normal" font-style="normal" fill="#000" stroke="#000" stroke-width="0.13" >10,000</text>
<line x1="162" y1="197.7" x2="164.2" y2="197.7" stroke="#222" stroke-width="0.75"/>
<text x="160.6" y="200.2" font-size="7.0" text-anchor="end" font-weight="normal" font-style="normal" fill="#000" stroke="#000" stroke-width="0.13" >5,000</text>
<line x1="162" y1="227.7" x2="164.2" y2="227.7" stroke="#222" stroke-width="0.75"/>
<text x="160.6" y="230.2" font-size="7.0" text-anchor="end" font-weight="normal" font-style="normal" fill="#000" stroke="#000" stroke-width="0.13" >0</text>
<rect x="173.2" y="172.6" width="15.6" height="55.1" fill="#6fa88c" stroke="#3d6f58" stroke-width="0.6"/>
<line x1="181.0" y1="227.7" x2="181.0" y2="229.89999999999998" stroke="#222" stroke-width="0.75"/>
<rect x="193.2" y="215.0" width="15.8" height="12.7" fill="#1d4a44" stroke="#12332f" stroke-width="0.6"/>
<line x1="201.1" y1="227.7" x2="201.1" y2="229.89999999999998" stroke="#222" stroke-width="0.75"/>
<rect x="213.3" y="200.8" width="16.3" height="26.9" fill="#fdf3cf" stroke="#333" stroke-width="0.6"/>
<line x1="221.45" y1="227.7" x2="221.45" y2="229.89999999999998" stroke="#222" stroke-width="0.75"/>
<rect x="233.8" y="217.5" width="15.8" height="10.2" fill="#f2b78f" stroke="#333" stroke-width="0.6"/>
<line x1="241.7" y1="227.7" x2="241.7" y2="229.89999999999998" stroke="#222" stroke-width="0.75"/>
<path d="M176.60000000000002,162.8 H185.0 M180.8,162.8 V181.6 M176.60000000000002,181.6 H185.0" stroke="#222" stroke-width="0.7" fill="none"/>
<path d="M197.4,210.6 H204.6 M201,210.6 V221.3 M197.4,221.3 H204.6" stroke="#111" stroke-width="0.7" fill="none"/>
<path d="M217.9,197.6 H225.1 M221.5,197.6 V203.9 M217.9,203.9 H225.1" stroke="#222" stroke-width="0.7" fill="none"/>
<path d="M238.1,213.4 H245.29999999999998 M241.7,213.4 V223.2 M238.1,223.2 H245.29999999999998" stroke="#222" stroke-width="0.7" fill="none"/>
<circle cx="180.7" cy="148.7" r="1.85" fill="#0a0a0a"/>
<circle cx="180.7" cy="170.4" r="1.85" fill="#0a0a0a"/>
<circle cx="180.7" cy="176.8" r="1.85" fill="#0a0a0a"/>
<circle cx="180.7" cy="193.6" r="1.85" fill="#0a0a0a"/>
<circle cx="201.1" cy="206.9" r="1.85" fill="#0a0a0a"/>
<circle cx="201.1" cy="210.5" r="1.85" fill="#0a0a0a"/>
<circle cx="204.9" cy="219.8" r="1.85" fill="#0a0a0a"/>
<circle cx="197.6" cy="222.8" r="1.85" fill="#0a0a0a"/>
<circle cx="218.0" cy="197.7" r="1.85" fill="#0a0a0a"/>
<circle cx="225.0" cy="195.5" r="1.85" fill="#0a0a0a"/>
<circle cx="225.2" cy="199.6" r="1.85" fill="#0a0a0a"/>
<circle cx="221.2" cy="209.3" r="1.85" fill="#0a0a0a"/>
<circle cx="241.9" cy="206.3" r="1.85" fill="#0a0a0a"/>
<circle cx="238.5" cy="219.8" r="1.85" fill="#0a0a0a"/>
<circle cx="245.4" cy="221.1" r="1.85" fill="#0a0a0a"/>
<circle cx="238.5" cy="223.6" r="1.85" fill="#0a0a0a"/>
<text transform="translate(133.2,186.2) rotate(-90)" font-size="7.2" text-anchor="middle" fill="#000" stroke="#000" stroke-width="0.13"><tspan font-style="italic">RFX6</tspan> TPM</text>
<text transform="translate(180.5,235.7) rotate(-45)" font-size="7.3" text-anchor="end" fill="#000" stroke="#000" stroke-width="0.13">CD26<tspan font-size="4" dy="-2.7">+</tspan><tspan dy="2.7"> control</tspan></text>
<text transform="translate(200.9,235.7) rotate(-45)" font-size="7.3" text-anchor="end" fill="#000" stroke="#000" stroke-width="0.13">CD26<tspan font-size="4" dy="-2.7">+</tspan><tspan dy="2.7"> </tspan><tspan font-style="italic">RFX6</tspan><tspan font-size="3.8" dy="-2.7">kd</tspan></text>
<text transform="translate(221.4,235.7) rotate(-45)" font-size="7.3" text-anchor="end" fill="#000" stroke="#000" stroke-width="0.13">NTPDase3<tspan font-size="4" dy="-2.7">+</tspan><tspan dy="2.7"> control</tspan></text>
<text transform="translate(241.6,235.7) rotate(-45)" font-size="7.3" text-anchor="end" fill="#000" stroke="#000" stroke-width="0.13">NTPDase3<tspan font-size="4" dy="-2.7">+</tspan><tspan dy="2.7"> </tspan><tspan font-style="italic">RFX6</tspan><tspan font-size="3.8" dy="-2.7">kd</tspan></text>
</g>
<g id="panelD">
<text x="268.3" y="131.9" font-size="15" font-weight="bold" fill="#000" stroke="#000" stroke-width="0.3">D</text>
<g fill="#0d0d0d">
<path d="M338.5,249.8 L343.2,248.6 L362.1,247.7 L376.3,247.0 L381.0,245.1 L383.3,241.4 L384.3,235.8 L385.7,229.3 L387.6,230.3 L390.4,235.8 L393.5,243.0 L395.1,247.4 L396.6,251.6 L397.5,253.7 L398.4,252.1 L399.4,250.2 L402.2,246.0 L404.6,242.3 L407.4,238.2 L409.3,237.2 L410.7,241.4 L412.1,245.1 L415.2,246.7 L418.7,247.4 L432.9,247.9 L451.8,248.4 L465.9,249.1 L468.3,249.8 L465.9,250.0 L454.8,250.7 L432.0,253.2 L418.7,254.4 L409.3,254.8 L397.5,255.0 L385.7,254.9 L376.3,254.4 L363.0,253.2 L340.2,250.5 Z"/>
<circle cx="397.0" cy="252.9" r="1"/>
<circle cx="460.5" cy="249.3" r="1"/>
<circle cx="404.5" cy="242.8" r="1"/>
<circle cx="361.0" cy="249.0" r="1"/>
<circle cx="442.8" cy="249.4" r="1"/>
<circle cx="377.0" cy="249.1" r="1"/>
<circle cx="429.4" cy="249.1" r="1"/>
<circle cx="468.3" cy="249.3" r="1"/>
<circle cx="424.1" cy="248.5" r="1"/>
<circle cx="407.2" cy="239.7" r="1"/>
<circle cx="361.7" cy="248.6" r="1"/>
<circle cx="340.2" cy="249.8" r="1"/>
<circle cx="395.4" cy="248.0" r="1"/>
<circle cx="406.0" cy="240.4" r="1"/>
<circle cx="403.4" cy="244.3" r="1"/>
<circle cx="397.7" cy="254.3" r="1"/>
<circle cx="449.2" cy="248.3" r="1"/>
<circle cx="378.6" cy="248.6" r="1"/>
<circle cx="345.6" cy="248.4" r="1"/>
<circle cx="390.0" cy="234.8" r="1"/>
<circle cx="388.1" cy="230.9" r="1"/>
<circle cx="450.1" cy="249.7" r="1"/>
<circle cx="364.4" cy="248.8" r="1"/>
<circle cx="468.0" cy="250.3" r="1"/>
<circle cx="346.0" cy="248.6" r="1"/>
<circle cx="440.9" cy="249.0" r="1"/>
<circle cx="347.9" cy="249.1" r="1"/>
<circle cx="465.8" cy="249.0" r="1"/>
<circle cx="352.0" cy="249.1" r="1"/>
<circle cx="349.7" cy="249.6" r="1"/>
<circle cx="443.4" cy="249.2" r="1"/>
<circle cx="411.4" cy="248.5" r="1"/>
<circle cx="434.6" cy="249.1" r="1"/>
<circle cx="422.7" cy="248.7" r="1"/>
<circle cx="392.7" cy="242.3" r="1"/>
<circle cx="372.4" cy="249.1" r="1"/>
<circle cx="377.1" cy="248.6" r="1"/>
<circle cx="389.2" cy="233.1" r="1"/>
<circle cx="422.5" cy="248.8" r="1"/>
<circle cx="364.8" cy="248.4" r="1"/>
<circle cx="440.1" cy="248.8" r="1"/>
<circle cx="376.0" cy="248.5" r="1"/>
<circle cx="414.5" cy="248.9" r="1"/>
<circle cx="386.1" cy="230.1" r="1"/>
<circle cx="465.2" cy="249.5" r="1"/>
<circle cx="413.4" cy="248.5" r="1"/>
<circle cx="356.9" cy="249.1" r="1"/>
<circle cx="369.7" cy="248.3" r="1"/>
<circle cx="435.6" cy="248.6" r="1"/>
<circle cx="464.0" cy="248.6" r="1"/>
<circle cx="417.3" cy="248.5" r="1"/>
<circle cx="341.3" cy="248.6" r="1"/>
<circle cx="368.2" cy="248.6" r="1"/>
<circle cx="446.9" cy="248.5" r="1"/>
<circle cx="375.6" cy="249.0" r="1"/>
<circle cx="345.4" cy="249.4" r="1"/>
<circle cx="411.4" cy="248.9" r="1"/>
<circle cx="373.8" cy="248.6" r="1"/>
<circle cx="372.4" cy="248.4" r="1"/>
<circle cx="359.8" cy="248.5" r="1"/>
<circle cx="413.1" cy="248.7" r="1"/>
<circle cx="456.0" cy="249.0" r="1"/>
<circle cx="429.1" cy="248.5" r="1"/>
<circle cx="340.9" cy="250.5" r="1"/>
<circle cx="458.6" cy="248.7" r="1"/>
<circle cx="465.7" cy="250.4" r="1"/>
<circle cx="421.7" cy="249.0" r="1"/>
<circle cx="379.0" cy="248.4" r="1"/>
<circle cx="409.6" cy="238.1" r="1"/>
<circle cx="457.2" cy="248.6" r="1"/>
<circle cx="430.8" cy="249.2" r="1"/>
<circle cx="383.5" cy="249.2" r="1"/>
<circle cx="453.3" cy="249.0" r="1"/>
<circle cx="442.5" cy="248.9" r="1"/>
<circle cx="420.2" cy="248.9" r="1"/>
<circle cx="418.0" cy="248.5" r="1"/>
<circle cx="422.2" cy="249.2" r="1"/>
<circle cx="434.1" cy="248.6" r="1"/>
<circle cx="435.0" cy="248.8" r="1"/>
<circle cx="448.9" cy="249.5" r="1"/>
<circle cx="437.1" cy="249.3" r="1"/>
<circle cx="417.0" cy="248.6" r="1"/>
<circle cx="430.1" cy="248.9" r="1"/>
<circle cx="460.0" cy="249.7" r="1"/>
<circle cx="376.6" cy="248.6" r="1"/>
<circle cx="359.0" cy="249.0" r="1"/>
<circle cx="395.6" cy="248.4" r="1"/>
<circle cx="380.1" cy="248.6" r="1"/>
<circle cx="394.1" cy="244.5" r="1"/>
<circle cx="459.1" cy="248.4" r="1"/>
<circle cx="387.9" cy="231.0" r="1"/>
<circle cx="378.7" cy="248.8" r="1"/>
<circle cx="448.7" cy="249.0" r="1"/>
<circle cx="463.9" cy="249.8" r="1"/>
<circle cx="358.9" cy="248.3" r="1"/>
<circle cx="373.2" cy="248.8" r="1"/>
<circle cx="420.3" cy="248.7" r="1"/>
<circle cx="449.0" cy="248.8" r="1"/>
<circle cx="346.2" cy="249.8" r="1"/>
<circle cx="453.6" cy="249.8" r="1"/>
<circle cx="431.5" cy="248.7" r="1"/>
<circle cx="442.6" cy="249.5" r="1"/>
<circle cx="354.4" cy="248.6" r="1"/>
<circle cx="339.5" cy="249.3" r="1"/>
<circle cx="368.1" cy="248.5" r="1"/>
<circle cx="342.5" cy="249.0" r="1"/>
<circle cx="396.2" cy="250.7" r="1"/>
<circle cx="424.3" cy="249.3" r="1"/>
<circle cx="428.2" cy="248.8" r="1"/>
<circle cx="400.1" cy="250.3" r="1"/>
<circle cx="399.7" cy="249.8" r="1"/>
<circle cx="360.2" cy="248.6" r="1"/>
<circle cx="382.6" cy="248.9" r="1"/>
<circle cx="418.8" cy="248.7" r="1"/>
<circle cx="442.7" cy="248.4" r="1"/>
<circle cx="461.6" cy="248.8" r="1"/>
<circle cx="353.6" cy="248.6" r="1"/>
<circle cx="420.3" cy="248.7" r="1"/>
<circle cx="412.7" cy="249.1" r="1"/>
<circle cx="463.2" cy="249.4" r="1"/>
<circle cx="423.8" cy="248.6" r="1"/>
<circle cx="433.3" cy="249.0" r="1"/>
<circle cx="432.7" cy="248.9" r="1"/>
<circle cx="457.2" cy="249.3" r="1"/>
<circle cx="408.4" cy="237.5" r="1"/>
<circle cx="379.2" cy="249.2" r="1"/>
<circle cx="383.0" cy="248.8" r="1"/>
<circle cx="410.2" cy="248.8" r="1"/>
<circle cx="340.0" cy="249.2" r="1"/>
<circle cx="344.8" cy="248.4" r="1"/>
<circle cx="359.4" cy="248.5" r="1"/>
<circle cx="442.1" cy="249.2" r="1"/>
<circle cx="356.1" cy="248.4" r="1"/>
<circle cx="433.5" cy="249.0" r="1"/>
<circle cx="463.4" cy="249.4" r="1"/>
<circle cx="463.8" cy="250.2" r="1"/>
<circle cx="365.9" cy="248.6" r="1"/>
<circle cx="434.2" cy="248.9" r="1"/>
<circle cx="449.6" cy="248.6" r="1"/>
<circle cx="378.1" cy="249.2" r="1"/>
<circle cx="457.3" cy="249.6" r="1"/>
<circle cx="450.6" cy="248.9" r="1"/>
<circle cx="413.2" cy="248.9" r="1"/>
<circle cx="403.8" cy="243.7" r="1"/>
<circle cx="339.9" cy="248.9" r="1"/>
<circle cx="405.6" cy="241.5" r="1"/>
<circle cx="443.9" cy="248.5" r="1"/>
<circle cx="402.2" cy="246.1" r="1"/>
<circle cx="345.0" cy="248.9" r="1"/>
<circle cx="391.8" cy="238.6" r="1"/>
<circle cx="460.4" cy="249.7" r="1"/>
<circle cx="399.8" cy="250.8" r="1"/>
<circle cx="394.5" cy="245.5" r="1"/>
<circle cx="457.3" cy="249.1" r="1"/>
<circle cx="378.8" cy="248.9" r="1"/>
<circle cx="460.6" cy="249.9" r="1"/>
<circle cx="441.0" cy="249.4" r="1"/>
<circle cx="362.3" cy="248.6" r="1"/>
<circle cx="428.6" cy="248.5" r="1"/>
<circle cx="383.9" cy="248.5" r="1"/>
<circle cx="434.5" cy="249.1" r="1"/>
<circle cx="404.8" cy="242.9" r="1"/>
<circle cx="362.7" cy="248.8" r="1"/>
<circle cx="386.7" cy="230.4" r="1"/>
<circle cx="407.3" cy="239.3" r="1"/>
<circle cx="363.6" cy="249.0" r="1"/>
<circle cx="407.4" cy="237.9" r="1"/>
<circle cx="418.4" cy="248.6" r="1"/>
<circle cx="435.8" cy="249.2" r="1"/>
<circle cx="378.6" cy="249.2" r="1"/>
<circle cx="365.5" cy="249.2" r="1"/>
<circle cx="354.2" cy="249.0" r="1"/>
<circle cx="433.9" cy="248.8" r="1"/>
<circle cx="349.2" cy="248.8" r="1"/>
<circle cx="442.4" cy="249.3" r="1"/>
<circle cx="390.3" cy="235.7" r="1"/>
<circle cx="338.5" cy="250.8" r="1"/>
<circle cx="427.9" cy="249.3" r="1"/>
<circle cx="351.7" cy="248.6" r="1"/>
<circle cx="438.1" cy="248.4" r="1"/>
<circle cx="428.4" cy="248.8" r="1"/>
<circle cx="345.6" cy="249.7" r="1"/>
<circle cx="341.2" cy="249.4" r="1"/>
<circle cx="405.4" cy="241.4" r="1"/>
<circle cx="355.9" cy="249.0" r="1"/>
<circle cx="363.6" cy="249.3" r="1"/>
<circle cx="460.8" cy="250.0" r="1"/>
<circle cx="344.5" cy="248.8" r="1"/>
<circle cx="439.0" cy="248.8" r="1"/>
<circle cx="399.0" cy="251.5" r="1"/>
<circle cx="394.0" cy="244.6" r="1"/>
<circle cx="430.4" cy="248.5" r="1"/>
<circle cx="397.2" cy="253.0" r="1"/>
<circle cx="390.7" cy="237.4" r="1"/>
<circle cx="358.3" cy="248.4" r="1"/>
<circle cx="456.3" cy="248.4" r="1"/>
<circle cx="430.9" cy="249.0" r="1"/>
<circle cx="390.6" cy="236.4" r="1"/>
<circle cx="404.0" cy="242.8" r="1"/>
<circle cx="444.4" cy="249.1" r="1"/>
<circle cx="458.7" cy="248.7" r="1"/>
<circle cx="440.8" cy="248.7" r="1"/>
<circle cx="456.7" cy="248.3" r="1"/>
<circle cx="429.6" cy="249.1" r="1"/>
<circle cx="390.7" cy="236.5" r="1"/>
<circle cx="345.6" cy="249.2" r="1"/>
<circle cx="399.2" cy="251.9" r="1"/>
<circle cx="384.0" cy="248.9" r="1"/>
<circle cx="367.4" cy="249.0" r="1"/>
<circle cx="381.6" cy="248.9" r="1"/>
<circle cx="407.8" cy="238.6" r="1"/>
<circle cx="422.5" cy="249.1" r="1"/>
<circle cx="468.0" cy="251.0" r="1"/>
<circle cx="418.9" cy="248.6" r="1"/>
<circle cx="390.2" cy="236.6" r="1"/>
<circle cx="362.4" cy="248.3" r="1"/>
<circle cx="349.4" cy="249.2" r="1"/>
<circle cx="458.0" cy="249.0" r="1"/>
<circle cx="404.5" cy="242.0" r="1"/>
<circle cx="412.5" cy="249.0" r="1"/>
<circle cx="445.0" cy="249.4" r="1"/>
<circle cx="416.5" cy="248.4" r="1"/>
<circle cx="461.3" cy="249.9" r="1"/>
<circle cx="399.6" cy="251.0" r="1"/>
<circle cx="402.8" cy="245.3" r="1"/>
<circle cx="344.0" cy="248.8" r="1"/>
<circle cx="407.0" cy="239.0" r="1"/>
<circle cx="385.3" cy="231.9" r="1"/>
<circle cx="424.3" cy="248.6" r="1"/>
<circle cx="432.5" cy="248.7" r="1"/>
<circle cx="369.1" cy="248.6" r="1"/>
<circle cx="357.2" cy="248.7" r="1"/>
<circle cx="456.9" cy="248.6" r="1"/>
<circle cx="342.9" cy="249.2" r="1"/>
<circle cx="346.0" cy="248.8" r="1"/>
<circle cx="400.4" cy="248.2" r="1"/>
<circle cx="368.9" cy="249.2" r="1"/>
<circle cx="433.4" cy="248.4" r="1"/>
<circle cx="467.8" cy="249.4" r="1"/>
<circle cx="417.3" cy="248.3" r="1"/>
<circle cx="420.1" cy="248.6" r="1"/>
<circle cx="343.1" cy="249.0" r="1"/>
<circle cx="352.9" cy="248.7" r="1"/>
<circle cx="426.0" cy="248.6" r="1"/>
<circle cx="414.5" cy="249.1" r="1"/>
<circle cx="407.5" cy="237.5" r="1"/>
<circle cx="464.3" cy="248.9" r="1"/>
<circle cx="368.2" cy="248.5" r="1"/>
<circle cx="456.2" cy="248.5" r="1"/>
<circle cx="420.2" cy="248.6" r="1"/>
<circle cx="427.4" cy="252.4" r="1"/>
<circle cx="415.3" cy="253.2" r="1"/>
<circle cx="436.3" cy="252.0" r="1"/>
<circle cx="370.8" cy="252.1" r="1"/>
<circle cx="457.4" cy="248.8" r="1"/>
<circle cx="343.6" cy="250.3" r="1"/>
<circle cx="373.7" cy="253.1" r="1"/>
<circle cx="419.4" cy="253.7" r="1"/>
<circle cx="408.8" cy="254.2" r="1"/>
<circle cx="349.7" cy="250.2" r="1"/>
<circle cx="410.0" cy="253.4" r="1"/>
<circle cx="386.9" cy="253.7" r="1"/>
<circle cx="365.8" cy="252.5" r="1"/>
<circle cx="435.2" cy="251.2" r="1"/>
<circle cx="348.2" cy="250.8" r="1"/>
<circle cx="443.5" cy="250.6" r="1"/>
<circle cx="438.3" cy="251.8" r="1"/>
<circle cx="393.6" cy="254.1" r="1"/>
<circle cx="443.6" cy="251.0" r="1"/>
<circle cx="423.3" cy="252.2" r="1"/>
<circle cx="380.7" cy="253.4" r="1"/>
<circle cx="435.3" cy="251.1" r="1"/>
<circle cx="394.0" cy="254.0" r="1"/>
<circle cx="351.1" cy="250.1" r="1"/>
<circle cx="348.7" cy="250.9" r="1"/>
<circle cx="411.7" cy="253.5" r="1"/>
<circle cx="427.5" cy="252.8" r="1"/>
<circle cx="439.2" cy="251.9" r="1"/>
<circle cx="366.2" cy="252.1" r="1"/>
<circle cx="349.1" cy="250.7" r="1"/>
<circle cx="432.6" cy="251.7" r="1"/>
<circle cx="375.2" cy="253.6" r="1"/>
<circle cx="384.9" cy="253.4" r="1"/>
<circle cx="386.1" cy="254.2" r="1"/>
<circle cx="430.6" cy="252.1" r="1"/>
<circle cx="457.7" cy="248.7" r="1"/>
<circle cx="457.1" cy="249.5" r="1"/>
<circle cx="442.7" cy="251.2" r="1"/>
<circle cx="379.7" cy="253.6" r="1"/>
<circle cx="459.8" cy="248.7" r="1"/>
<circle cx="370.7" cy="252.9" r="1"/>
<circle cx="386.0" cy="253.9" r="1"/>
<circle cx="389.9" cy="253.9" r="1"/>
<circle cx="363.8" cy="252.1" r="1"/>
<circle cx="442.0" cy="250.9" r="1"/>
<circle cx="447.1" cy="250.3" r="1"/>
<circle cx="361.4" cy="251.5" r="1"/>
<circle cx="452.8" cy="250.1" r="1"/>
<circle cx="341.4" cy="249.4" r="1"/>
<circle cx="409.1" cy="253.5" r="1"/>
<circle cx="463.9" cy="248.7" r="1"/>
<circle cx="442.9" cy="251.5" r="1"/>
<circle cx="409.5" cy="253.2" r="1"/>
<circle cx="349.4" cy="251.0" r="1"/>
<circle cx="434.2" cy="251.3" r="1"/>
<circle cx="349.5" cy="250.2" r="1"/>
<circle cx="357.2" cy="251.0" r="1"/>
<circle cx="422.7" cy="253.2" r="1"/>
<circle cx="367.1" cy="252.1" r="1"/>
<circle cx="406.2" cy="253.3" r="1"/>
<circle cx="389.7" cy="254.0" r="1"/>
<circle cx="464.2" cy="248.7" r="1"/>
<circle cx="402.6" cy="253.7" r="1"/>
<circle cx="432.1" cy="251.8" r="1"/>
<circle cx="457.3" cy="249.5" r="1"/>
<circle cx="445.7" cy="250.3" r="1"/>
<circle cx="449.3" cy="249.7" r="1"/>
<circle cx="446.7" cy="249.9" r="1"/>
<circle cx="462.8" cy="248.8" r="1"/>
<circle cx="406.5" cy="253.4" r="1"/>
<circle cx="442.6" cy="251.0" r="1"/>
<circle cx="393.1" cy="254.3" r="1"/>
<circle cx="434.7" cy="251.1" r="1"/>
<circle cx="387.2" cy="254.2" r="1"/>
<circle cx="365.0" cy="252.4" r="1"/>
<circle cx="376.4" cy="252.6" r="1"/>
<circle cx="346.2" cy="250.3" r="1"/>
<circle cx="353.4" cy="250.7" r="1"/>
<circle cx="439.2" cy="251.7" r="1"/>
<circle cx="346.6" cy="250.1" r="1"/>
<circle cx="414.3" cy="252.8" r="1"/>
<circle cx="343.2" cy="250.2" r="1"/>
<circle cx="362.5" cy="252.4" r="1"/>
<circle cx="369.1" cy="252.3" r="1"/>
<circle cx="415.7" cy="253.7" r="1"/>
<circle cx="362.5" cy="252.3" r="1"/>
<circle cx="360.9" cy="251.5" r="1"/>
<circle cx="379.0" cy="253.3" r="1"/>
<circle cx="444.6" cy="250.7" r="1"/>
<circle cx="372.3" cy="252.4" r="1"/>
<circle cx="457.2" cy="249.6" r="1"/>
<circle cx="409.5" cy="253.0" r="1"/>
<circle cx="401.1" cy="254.1" r="1"/>
<circle cx="345.0" cy="249.3" r="1"/>
<circle cx="442.5" cy="251.1" r="1"/>
<circle cx="407.0" cy="253.6" r="1"/>
<circle cx="374.1" cy="252.4" r="1"/>
<circle cx="423.9" cy="253.2" r="1"/>
<circle cx="399.8" cy="253.9" r="1"/>
<circle cx="441.9" cy="250.7" r="1"/>
<circle cx="417.2" cy="253.8" r="1"/>
<circle cx="358.9" cy="251.8" r="1"/>
<circle cx="372.2" cy="252.4" r="1"/>
<circle cx="405.5" cy="253.5" r="1"/>
<circle cx="373.1" cy="252.9" r="1"/>
<circle cx="358.1" cy="251.1" r="1"/>
<circle cx="445.1" cy="250.1" r="1"/>
<circle cx="445.2" cy="251.2" r="1"/>
<circle cx="373.5" cy="252.7" r="1"/>
<circle cx="351.1" cy="250.7" r="1"/>
<circle cx="399.3" cy="253.1" r="1"/>
<circle cx="414.6" cy="252.9" r="1"/>
<circle cx="377.9" cy="252.9" r="1"/>
<circle cx="392.6" cy="253.2" r="1"/>
<circle cx="350.3" cy="250.1" r="1"/>
<circle cx="365.6" cy="252.2" r="1"/>
<circle cx="406.7" cy="254.1" r="1"/>
<circle cx="446.5" cy="250.7" r="1"/>
<circle cx="378.8" cy="254.0" r="1"/>
<circle cx="378.2" cy="253.4" r="1"/>
<circle cx="431.3" cy="252.3" r="1"/>
<circle cx="427.7" cy="253.0" r="1"/>
<circle cx="389.7" cy="253.8" r="1"/>
<circle cx="464.0" cy="248.5" r="1"/>
<circle cx="423.4" cy="253.5" r="1"/>
<circle cx="387.5" cy="253.4" r="1"/>
<circle cx="369.3" cy="252.5" r="1"/>
<circle cx="398.0" cy="254.5" r="1"/>
<circle cx="442.3" cy="251.3" r="1"/>
<circle cx="418.5" cy="253.5" r="1"/>
<circle cx="387.3" cy="253.7" r="1"/>
<circle cx="377.2" cy="253.5" r="1"/>
<circle cx="389.4" cy="253.5" r="1"/>
<circle cx="371.8" cy="253.3" r="1"/>
<circle cx="433.4" cy="252.2" r="1"/>
<circle cx="461.2" cy="249.0" r="1"/>
<circle cx="432.4" cy="252.3" r="1"/>
<circle cx="445.8" cy="251.1" r="1"/>
<circle cx="356.8" cy="251.9" r="1"/>
<circle cx="426.5" cy="252.3" r="1"/>
<circle cx="361.8" cy="252.1" r="1"/>
<circle cx="447.1" cy="250.3" r="1"/>
<circle cx="350.2" cy="250.9" r="1"/>
<circle cx="358.9" cy="252.1" r="1"/>
<circle cx="391.3" cy="254.3" r="1"/>
<circle cx="458.0" cy="249.4" r="1"/>
<circle cx="404.9" cy="253.5" r="1"/>
<circle cx="438.0" cy="251.0" r="1"/>
<circle cx="388.6" cy="254.0" r="1"/>
<circle cx="392.0" cy="254.4" r="1"/>
<circle cx="390.5" cy="253.5" r="1"/>
<circle cx="441.0" cy="250.8" r="1"/>
<circle cx="417.5" cy="254.0" r="1"/>
<circle cx="381.5" cy="253.7" r="1"/>
<circle cx="423.0" cy="253.4" r="1"/>
</g>
<circle cx="318.7" cy="250.7" r="1.45" fill="#444" fill-opacity="0.85"/>
<circle cx="336.8" cy="252.0" r="1.45" fill="#444" fill-opacity="0.85"/>
<circle cx="460.0" cy="252.1" r="1.45" fill="#444" fill-opacity="0.85"/>
<circle cx="463.6" cy="253.0" r="1.45" fill="#444" fill-opacity="0.85"/>
<circle cx="477.7" cy="251.6" r="1.45" fill="#444" fill-opacity="0.85"/>
<circle cx="483.6" cy="250.7" r="1.45" fill="#444" fill-opacity="0.85"/>
<circle cx="489.5" cy="251.2" r="1.45" fill="#444" fill-opacity="0.85"/>
<circle cx="482.5" cy="249.3" r="1.45" fill="#444" fill-opacity="0.85"/>
<circle cx="490.7" cy="248.8" r="1.45" fill="#444" fill-opacity="0.85"/>
<circle cx="457.7" cy="251.2" r="1.45" fill="#444" fill-opacity="0.85"/>
<circle cx="470.7" cy="250.7" r="1.45" fill="#444" fill-opacity="0.85"/>
<circle cx="474.2" cy="249.8" r="1.45" fill="#444" fill-opacity="0.85"/>
<g fill="#d41d2e" fill-opacity="0.66">
<circle cx="381.9" cy="243.6" r="1.6"/>
<circle cx="374.2" cy="238.1" r="1.6"/>
<circle cx="378.5" cy="246.5" r="1.6"/>
<circle cx="374.9" cy="235.0" r="1.6"/>
<circle cx="379.6" cy="245.1" r="1.6"/>
<circle cx="380.3" cy="246.6" r="1.6"/>
<circle cx="376.4" cy="224.4" r="1.6"/>
<circle cx="380.1" cy="240.7" r="1.6"/>
<circle cx="372.4" cy="246.3" r="1.6"/>
<circle cx="364.7" cy="244.9" r="1.6"/>
<circle cx="383.7" cy="247.0" r="1.6"/>
<circle cx="383.2" cy="242.9" r="1.6"/>
<circle cx="376.8" cy="245.3" r="1.6"/>
<circle cx="366.5" cy="246.3" r="1.6"/>
<circle cx="380.8" cy="246.7" r="1.6"/>
<circle cx="359.5" cy="247.1" r="1.6"/>
<circle cx="368.6" cy="245.4" r="1.6"/>
<circle cx="379.4" cy="243.1" r="1.6"/>
<circle cx="383.1" cy="234.6" r="1.6"/>
<circle cx="350.9" cy="243.1" r="1.6"/>
<circle cx="378.7" cy="246.7" r="1.6"/>
<circle cx="372.9" cy="245.6" r="1.6"/>
<circle cx="369.1" cy="246.7" r="1.6"/>
<circle cx="379.2" cy="238.0" r="1.6"/>
<circle cx="383.8" cy="243.2" r="1.6"/>
<circle cx="384.7" cy="247.3" r="1.6"/>
<circle cx="383.8" cy="224.3" r="1.6"/>
<circle cx="365.4" cy="244.7" r="1.6"/>
<circle cx="382.6" cy="241.5" r="1.6"/>
<circle cx="375.8" cy="244.9" r="1.6"/>
<circle cx="378.9" cy="238.7" r="1.6"/>
<circle cx="385.1" cy="246.3" r="1.6"/>
<circle cx="380.8" cy="246.6" r="1.6"/>
<circle cx="381.8" cy="242.9" r="1.6"/>
<circle cx="383.9" cy="243.5" r="1.6"/>
<circle cx="383.1" cy="243.0" r="1.6"/>
<circle cx="382.4" cy="242.0" r="1.6"/>
<circle cx="385.0" cy="241.5" r="1.6"/>
<circle cx="384.1" cy="230.4" r="1.6"/>
<circle cx="378.7" cy="244.1" r="1.6"/>
<circle cx="381.5" cy="242.2" r="1.6"/>
<circle cx="377.0" cy="239.9" r="1.6"/>
<circle cx="375.4" cy="243.9" r="1.6"/>
<circle cx="348.2" cy="242.8" r="1.6"/>
<circle cx="371.6" cy="244.6" r="1.6"/>
<circle cx="381.2" cy="243.0" r="1.6"/>
<circle cx="368.5" cy="245.5" r="1.6"/>
<circle cx="380.0" cy="244.4" r="1.6"/>
<circle cx="368.6" cy="246.5" r="1.6"/>
<circle cx="384.8" cy="240.5" r="1.6"/>
<circle cx="368.9" cy="244.1" r="1.6"/>
<circle cx="378.8" cy="240.0" r="1.6"/>
<circle cx="382.7" cy="242.6" r="1.6"/>
<circle cx="384.7" cy="246.7" r="1.6"/>
<circle cx="381.0" cy="243.7" r="1.6"/>
<circle cx="381.6" cy="247.2" r="1.6"/>
<circle cx="376.8" cy="243.5" r="1.6"/>
<circle cx="383.3" cy="245.5" r="1.6"/>
<circle cx="381.7" cy="246.0" r="1.6"/>
<circle cx="384.7" cy="234.5" r="1.6"/>
<circle cx="361.2" cy="244.6" r="1.6"/>
<circle cx="371.0" cy="244.5" r="1.6"/>
<circle cx="373.6" cy="246.1" r="1.6"/>
<circle cx="375.5" cy="243.0" r="1.6"/>
<circle cx="368.7" cy="247.2" r="1.6"/>
<circle cx="374.1" cy="246.7" r="1.6"/>
<circle cx="379.8" cy="231.3" r="1.6"/>
<circle cx="385.2" cy="245.9" r="1.6"/>
<circle cx="382.7" cy="245.3" r="1.6"/>
<circle cx="384.8" cy="235.4" r="1.6"/>
<circle cx="373.3" cy="244.7" r="1.6"/>
<circle cx="382.1" cy="242.7" r="1.6"/>
<circle cx="384.9" cy="247.3" r="1.6"/>
<circle cx="369.0" cy="246.5" r="1.6"/>
<circle cx="380.3" cy="232.9" r="1.6"/>
<circle cx="358.4" cy="245.8" r="1.6"/>
<circle cx="383.6" cy="245.6" r="1.6"/>
<circle cx="367.1" cy="241.6" r="1.6"/>
<circle cx="383.7" cy="237.7" r="1.6"/>
<circle cx="382.1" cy="244.0" r="1.6"/>
<circle cx="383.9" cy="236.1" r="1.6"/>
<circle cx="347.1" cy="246.9" r="1.6"/>
<circle cx="378.1" cy="246.3" r="1.6"/>
<circle cx="370.2" cy="247.2" r="1.6"/>
<circle cx="384.4" cy="240.5" r="1.6"/>
<circle cx="382.6" cy="235.1" r="1.6"/>
<circle cx="370.8" cy="240.8" r="1.6"/>
<circle cx="384.2" cy="241.1" r="1.6"/>
<circle cx="365.6" cy="245.9" r="1.6"/>
<circle cx="384.6" cy="246.1" r="1.6"/>
<circle cx="382.6" cy="240.8" r="1.6"/>
<circle cx="383.7" cy="246.4" r="1.6"/>
<circle cx="383.3" cy="241.6" r="1.6"/>
<circle cx="374.2" cy="245.0" r="1.6"/>
<circle cx="377.5" cy="235.9" r="1.6"/>
<circle cx="378.9" cy="246.1" r="1.6"/>
<circle cx="382.7" cy="233.5" r="1.6"/>
<circle cx="377.4" cy="245.7" r="1.6"/>
<circle cx="378.0" cy="246.9" r="1.6"/>
<circle cx="356.4" cy="246.0" r="1.6"/>
<circle cx="379.9" cy="243.4" r="1.6"/>
<circle cx="384.9" cy="242.6" r="1.6"/>
<circle cx="382.9" cy="245.9" r="1.6"/>
<circle cx="373.7" cy="247.0" r="1.6"/>
<circle cx="382.9" cy="239.9" r="1.6"/>
<circle cx="383.2" cy="245.7" r="1.6"/>
<circle cx="379.6" cy="246.3" r="1.6"/>
<circle cx="369.1" cy="236.2" r="1.6"/>
<circle cx="385.0" cy="244.1" r="1.6"/>
<circle cx="375.4" cy="244.8" r="1.6"/>
<circle cx="366.5" cy="245.7" r="1.6"/>
<circle cx="383.8" cy="243.1" r="1.6"/>
<circle cx="377.9" cy="245.1" r="1.6"/>
<circle cx="377.6" cy="239.3" r="1.6"/>
<circle cx="380.1" cy="243.7" r="1.6"/>
<circle cx="372.0" cy="241.3" r="1.6"/>
<circle cx="380.0" cy="231.3" r="1.6"/>
<circle cx="383.9" cy="239.4" r="1.6"/>
<circle cx="383.9" cy="242.4" r="1.6"/>
<circle cx="383.3" cy="244.3" r="1.6"/>
<circle cx="374.7" cy="239.2" r="1.6"/>
<circle cx="374.1" cy="246.0" r="1.6"/>
<circle cx="380.5" cy="246.1" r="1.6"/>
<circle cx="379.1" cy="243.8" r="1.6"/>
<circle cx="385.0" cy="242.6" r="1.6"/>
<circle cx="376.3" cy="242.9" r="1.6"/>
<circle cx="370.6" cy="246.4" r="1.6"/>
<circle cx="384.1" cy="247.3" r="1.6"/>
<circle cx="380.4" cy="244.4" r="1.6"/>
<circle cx="381.1" cy="245.8" r="1.6"/>
<circle cx="373.9" cy="247.0" r="1.6"/>
<circle cx="368.4" cy="245.3" r="1.6"/>
<circle cx="379.7" cy="239.1" r="1.6"/>
<circle cx="383.3" cy="246.6" r="1.6"/>
<circle cx="382.6" cy="247.2" r="1.6"/>
<circle cx="382.6" cy="242.3" r="1.6"/>
<circle cx="380.0" cy="245.8" r="1.6"/>
<circle cx="378.9" cy="246.9" r="1.6"/>
<circle cx="373.1" cy="246.4" r="1.6"/>
<circle cx="383.1" cy="246.5" r="1.6"/>
<circle cx="376.9" cy="238.0" r="1.6"/>
<circle cx="374.3" cy="247.1" r="1.6"/>
<circle cx="381.5" cy="245.0" r="1.6"/>
<circle cx="383.5" cy="228.6" r="1.6"/>
<circle cx="384.9" cy="243.9" r="1.6"/>
<circle cx="375.1" cy="224.6" r="1.6"/>
<circle cx="384.1" cy="244.2" r="1.6"/>
<circle cx="375.6" cy="247.2" r="1.6"/>
<circle cx="383.3" cy="235.7" r="1.6"/>
<circle cx="384.1" cy="244.8" r="1.6"/>
<circle cx="382.7" cy="244.5" r="1.6"/>
<circle cx="384.7" cy="247.3" r="1.6"/>
<circle cx="345.9" cy="243.8" r="1.6"/>
<circle cx="375.9" cy="246.0" r="1.6"/>
<circle cx="383.2" cy="243.2" r="1.6"/>
<circle cx="383.3" cy="244.1" r="1.6"/>
<circle cx="366.1" cy="246.3" r="1.6"/>
<circle cx="382.3" cy="226.2" r="1.6"/>
<circle cx="378.5" cy="247.2" r="1.6"/>
<circle cx="381.6" cy="241.8" r="1.6"/>
<circle cx="384.8" cy="245.2" r="1.6"/>
<circle cx="376.8" cy="236.8" r="1.6"/>
<circle cx="378.9" cy="235.8" r="1.6"/>
<circle cx="380.8" cy="244.8" r="1.6"/>
<circle cx="372.1" cy="244.9" r="1.6"/>
<circle cx="374.5" cy="246.1" r="1.6"/>
<circle cx="382.2" cy="246.4" r="1.6"/>
<circle cx="379.6" cy="246.5" r="1.6"/>
<circle cx="383.6" cy="246.2" r="1.6"/>
<circle cx="380.8" cy="245.5" r="1.6"/>
<circle cx="377.2" cy="236.8" r="1.6"/>
<circle cx="383.6" cy="244.9" r="1.6"/>
<circle cx="384.7" cy="241.2" r="1.6"/>
<circle cx="382.0" cy="245.7" r="1.6"/>
<circle cx="385.1" cy="246.4" r="1.6"/>
<circle cx="383.1" cy="244.8" r="1.6"/>
<circle cx="367.0" cy="244.2" r="1.6"/>
<circle cx="383.0" cy="245.0" r="1.6"/>
<circle cx="384.0" cy="232.7" r="1.6"/>
<circle cx="382.1" cy="239.7" r="1.6"/>
<circle cx="376.1" cy="234.8" r="1.6"/>
<circle cx="385.1" cy="245.4" r="1.6"/>
<circle cx="381.8" cy="247.0" r="1.6"/>
<circle cx="370.1" cy="245.3" r="1.6"/>
<circle cx="374.8" cy="243.5" r="1.6"/>
<circle cx="384.8" cy="244.8" r="1.6"/>
<circle cx="383.3" cy="247.2" r="1.6"/>
<circle cx="384.1" cy="242.6" r="1.6"/>
<circle cx="385.0" cy="245.4" r="1.6"/>
<circle cx="371.3" cy="246.2" r="1.6"/>
<circle cx="380.9" cy="245.4" r="1.6"/>
<circle cx="377.2" cy="245.3" r="1.6"/>
<circle cx="360.6" cy="247.2" r="1.6"/>
<circle cx="379.0" cy="246.9" r="1.6"/>
<circle cx="358.4" cy="246.6" r="1.6"/>
<circle cx="372.7" cy="244.2" r="1.6"/>
<circle cx="378.3" cy="246.9" r="1.6"/>
<circle cx="374.3" cy="247.0" r="1.6"/>
<circle cx="382.9" cy="247.4" r="1.6"/>
<circle cx="362.3" cy="246.1" r="1.6"/>
<circle cx="353.5" cy="241.4" r="1.6"/>
<circle cx="376.0" cy="245.6" r="1.6"/>
<circle cx="347.7" cy="247.0" r="1.6"/>
<circle cx="359.5" cy="245.7" r="1.6"/>
<circle cx="345.7" cy="244.1" r="1.6"/>
<circle cx="378.1" cy="245.8" r="1.6"/>
<circle cx="382.0" cy="246.5" r="1.6"/>
<circle cx="372.5" cy="247.3" r="1.6"/>
<circle cx="372.9" cy="246.8" r="1.6"/>
<circle cx="368.3" cy="246.9" r="1.6"/>
<circle cx="380.3" cy="246.6" r="1.6"/>
<circle cx="369.2" cy="247.1" r="1.6"/>
<circle cx="360.7" cy="247.0" r="1.6"/>
<circle cx="381.9" cy="246.8" r="1.6"/>
<circle cx="371.3" cy="247.2" r="1.6"/>
<circle cx="364.5" cy="245.5" r="1.6"/>
<circle cx="365.8" cy="245.5" r="1.6"/>
<circle cx="383.1" cy="246.6" r="1.6"/>
<circle cx="373.6" cy="247.3" r="1.6"/>
<circle cx="372.0" cy="247.3" r="1.6"/>
<circle cx="368.3" cy="246.0" r="1.6"/>
<circle cx="369.4" cy="246.8" r="1.6"/>
<circle cx="377.5" cy="247.4" r="1.6"/>
<circle cx="412.0" cy="237.6" r="1.6"/>
<circle cx="414.1" cy="246.1" r="1.6"/>
<circle cx="415.5" cy="246.5" r="1.6"/>
<circle cx="413.1" cy="243.2" r="1.6"/>
<circle cx="425.8" cy="245.5" r="1.6"/>
<circle cx="414.2" cy="234.9" r="1.6"/>
<circle cx="417.4" cy="243.1" r="1.6"/>
<circle cx="414.8" cy="245.1" r="1.6"/>
<circle cx="412.6" cy="246.0" r="1.6"/>
<circle cx="419.0" cy="238.1" r="1.6"/>
<circle cx="412.3" cy="236.8" r="1.6"/>
<circle cx="410.0" cy="246.8" r="1.6"/>
<circle cx="413.4" cy="245.8" r="1.6"/>
<circle cx="412.1" cy="230.8" r="1.6"/>
<circle cx="410.6" cy="246.5" r="1.6"/>
<circle cx="411.1" cy="242.4" r="1.6"/>
<circle cx="411.2" cy="247.4" r="1.6"/>
<circle cx="413.8" cy="245.2" r="1.6"/>
<circle cx="411.2" cy="244.4" r="1.6"/>
<circle cx="415.2" cy="243.9" r="1.6"/>
<circle cx="414.9" cy="243.8" r="1.6"/>
<circle cx="419.0" cy="232.2" r="1.6"/>
<circle cx="411.9" cy="245.6" r="1.6"/>
<circle cx="421.1" cy="245.8" r="1.6"/>
<circle cx="416.3" cy="242.2" r="1.6"/>
<circle cx="415.8" cy="232.8" r="1.6"/>
<circle cx="418.8" cy="246.7" r="1.6"/>
<circle cx="414.8" cy="244.5" r="1.6"/>
<circle cx="414.1" cy="245.4" r="1.6"/>
<circle cx="411.5" cy="241.3" r="1.6"/>
<circle cx="413.7" cy="246.2" r="1.6"/>
<circle cx="411.3" cy="245.7" r="1.6"/>
<circle cx="410.8" cy="244.3" r="1.6"/>
<circle cx="410.5" cy="247.2" r="1.6"/>
<circle cx="410.1" cy="247.0" r="1.6"/>
<circle cx="416.1" cy="246.9" r="1.6"/>
<circle cx="412.9" cy="240.9" r="1.6"/>
<circle cx="413.2" cy="246.7" r="1.6"/>
<circle cx="420.2" cy="238.5" r="1.6"/>
<circle cx="410.1" cy="246.1" r="1.6"/>
<circle cx="413.4" cy="240.4" r="1.6"/>
<circle cx="412.4" cy="241.9" r="1.6"/>
<circle cx="411.3" cy="241.9" r="1.6"/>
<circle cx="411.8" cy="245.6" r="1.6"/>
<circle cx="417.2" cy="239.3" r="1.6"/>
<circle cx="418.9" cy="243.7" r="1.6"/>
<circle cx="412.6" cy="242.0" r="1.6"/>
<circle cx="414.8" cy="239.6" r="1.6"/>
<circle cx="418.2" cy="246.9" r="1.6"/>
<circle cx="412.2" cy="242.6" r="1.6"/>
<circle cx="411.1" cy="246.5" r="1.6"/>
<circle cx="409.8" cy="243.6" r="1.6"/>
<circle cx="424.5" cy="231.9" r="1.6"/>
<circle cx="410.5" cy="242.3" r="1.6"/>
<circle cx="412.6" cy="243.0" r="1.6"/>
<circle cx="412.4" cy="235.5" r="1.6"/>
<circle cx="433.1" cy="247.2" r="1.6"/>
<circle cx="416.3" cy="246.9" r="1.6"/>
<circle cx="410.0" cy="246.0" r="1.6"/>
<circle cx="416.6" cy="225.2" r="1.6"/>
<circle cx="410.4" cy="245.7" r="1.6"/>
<circle cx="409.9" cy="244.0" r="1.6"/>
<circle cx="413.2" cy="245.4" r="1.6"/>
<circle cx="411.7" cy="240.3" r="1.6"/>
<circle cx="419.2" cy="246.0" r="1.6"/>
<circle cx="412.4" cy="243.2" r="1.6"/>
<circle cx="417.3" cy="230.0" r="1.6"/>
<circle cx="412.3" cy="242.2" r="1.6"/>
<circle cx="413.9" cy="240.3" r="1.6"/>
<circle cx="410.6" cy="246.6" r="1.6"/>
<circle cx="410.4" cy="235.5" r="1.6"/>
<circle cx="411.3" cy="244.5" r="1.6"/>
<circle cx="410.4" cy="245.7" r="1.6"/>
<circle cx="409.9" cy="243.8" r="1.6"/>
<circle cx="410.6" cy="243.1" r="1.6"/>
<circle cx="411.4" cy="246.3" r="1.6"/>
<circle cx="413.2" cy="245.4" r="1.6"/>
<circle cx="411.3" cy="247.2" r="1.6"/>
<circle cx="410.1" cy="237.6" r="1.6"/>
<circle cx="411.7" cy="247.1" r="1.6"/>
<circle cx="410.8" cy="244.5" r="1.6"/>
<circle cx="440.2" cy="246.4" r="1.6"/>
<circle cx="420.3" cy="244.5" r="1.6"/>
<circle cx="412.6" cy="240.2" r="1.6"/>
<circle cx="412.4" cy="247.2" r="1.6"/>
<circle cx="446.2" cy="245.6" r="1.6"/>
<circle cx="450.9" cy="246.9" r="1.6"/>
<circle cx="471.4" cy="243.9" r="1.6"/>
<circle cx="475.0" cy="246.4" r="1.6"/>
<circle cx="464.6" cy="245.2" r="1.6"/>
<circle cx="421.9" cy="247.4" r="1.6"/>
<circle cx="421.4" cy="247.2" r="1.6"/>
<circle cx="415.3" cy="246.7" r="1.6"/>
<circle cx="459.4" cy="246.8" r="1.6"/>
<circle cx="443.9" cy="247.4" r="1.6"/>
<circle cx="424.1" cy="241.8" r="1.6"/>
<circle cx="411.2" cy="246.1" r="1.6"/>
<circle cx="463.1" cy="244.7" r="1.6"/>
<circle cx="458.2" cy="246.5" r="1.6"/>
<circle cx="462.6" cy="244.3" r="1.6"/>
<circle cx="460.3" cy="239.9" r="1.6"/>
<circle cx="417.0" cy="242.1" r="1.6"/>
<circle cx="436.6" cy="245.3" r="1.6"/>
<circle cx="426.7" cy="243.2" r="1.6"/>
<circle cx="412.0" cy="245.9" r="1.6"/>
<circle cx="425.2" cy="246.6" r="1.6"/>
<circle cx="434.4" cy="245.6" r="1.6"/>
<circle cx="463.1" cy="246.6" r="1.6"/>
<circle cx="451.9" cy="246.7" r="1.6"/>
<circle cx="428.6" cy="243.3" r="1.6"/>
<circle cx="431.4" cy="247.3" r="1.6"/>
<circle cx="432.2" cy="245.1" r="1.6"/>
<circle cx="424.2" cy="245.0" r="1.6"/>
<circle cx="445.9" cy="245.4" r="1.6"/>
<circle cx="422.0" cy="247.2" r="1.6"/>
<circle cx="419.8" cy="246.7" r="1.6"/>
<circle cx="438.4" cy="247.4" r="1.6"/>
<circle cx="443.1" cy="246.5" r="1.6"/>
<circle cx="431.3" cy="246.1" r="1.6"/>
<circle cx="472.3" cy="247.0" r="1.6"/>
<circle cx="467.6" cy="246.8" r="1.6"/>
<circle cx="459.4" cy="247.2" r="1.6"/>
<circle cx="474.6" cy="246.4" r="1.6"/>
<circle cx="473.0" cy="247.0" r="1.6"/>
<circle cx="437.0" cy="245.3" r="1.6"/>
<circle cx="422.0" cy="246.9" r="1.6"/>
<circle cx="454.4" cy="242.2" r="1.6"/>
<circle cx="431.4" cy="247.1" r="1.6"/>
<circle cx="433.7" cy="239.4" r="1.6"/>
<circle cx="420.1" cy="245.7" r="1.6"/>
<circle cx="435.0" cy="245.6" r="1.6"/>
<circle cx="424.3" cy="245.8" r="1.6"/>
<circle cx="468.1" cy="244.0" r="1.6"/>
<circle cx="451.3" cy="246.2" r="1.6"/>
<circle cx="447.3" cy="247.2" r="1.6"/>
<circle cx="464.8" cy="245.4" r="1.6"/>
<circle cx="439.9" cy="245.5" r="1.6"/>
<circle cx="437.7" cy="246.6" r="1.6"/>
<circle cx="425.4" cy="245.8" r="1.6"/>
<circle cx="447.7" cy="246.2" r="1.6"/>
<circle cx="412.6" cy="245.7" r="1.6"/>
<circle cx="439.5" cy="245.9" r="1.6"/>
<circle cx="449.1" cy="242.7" r="1.6"/>
<circle cx="420.3" cy="246.3" r="1.6"/>
<circle cx="474.9" cy="245.1" r="1.6"/>
<circle cx="430.8" cy="245.1" r="1.6"/>
<circle cx="474.7" cy="246.5" r="1.6"/>
<circle cx="466.8" cy="247.2" r="1.6"/>
<circle cx="474.7" cy="246.2" r="1.6"/>
<circle cx="425.7" cy="244.2" r="1.6"/>
<circle cx="452.6" cy="242.5" r="1.6"/>
<circle cx="464.3" cy="244.6" r="1.6"/>
<circle cx="443.7" cy="238.5" r="1.6"/>
<circle cx="414.7" cy="243.8" r="1.6"/>
<circle cx="456.7" cy="246.9" r="1.6"/>
<circle cx="462.9" cy="246.4" r="1.6"/>
<circle cx="445.3" cy="243.9" r="1.6"/>
<circle cx="423.2" cy="246.9" r="1.6"/>
<circle cx="452.3" cy="247.3" r="1.6"/>
<circle cx="446.5" cy="244.7" r="1.6"/>
<circle cx="442.3" cy="247.0" r="1.6"/>
<circle cx="462.4" cy="244.0" r="1.6"/>
<circle cx="460.5" cy="246.0" r="1.6"/>
<circle cx="469.3" cy="244.6" r="1.6"/>
<circle cx="420.3" cy="246.6" r="1.6"/>
<circle cx="417.0" cy="247.4" r="1.6"/>
<circle cx="432.9" cy="243.9" r="1.6"/>
<circle cx="464.6" cy="247.2" r="1.6"/>
<circle cx="422.3" cy="246.6" r="1.6"/>
<circle cx="465.6" cy="245.7" r="1.6"/>
<circle cx="469.0" cy="247.3" r="1.6"/>
<circle cx="474.6" cy="247.0" r="1.6"/>
<circle cx="451.3" cy="243.8" r="1.6"/>
<circle cx="457.7" cy="247.1" r="1.6"/>
<circle cx="453.9" cy="246.4" r="1.6"/>
<circle cx="411.5" cy="246.7" r="1.6"/>
<circle cx="430.9" cy="245.7" r="1.6"/>
<circle cx="428.6" cy="245.8" r="1.6"/>
<circle cx="455.6" cy="247.1" r="1.6"/>
<circle cx="418.8" cy="245.4" r="1.6"/>
<circle cx="440.8" cy="247.2" r="1.6"/>
<circle cx="418.0" cy="242.4" r="1.6"/>
<circle cx="450.1" cy="246.7" r="1.6"/>
<circle cx="423.2" cy="238.2" r="1.6"/>
<circle cx="455.4" cy="245.1" r="1.6"/>
<circle cx="433.9" cy="246.8" r="1.6"/>
<circle cx="437.0" cy="247.2" r="1.6"/>
<circle cx="451.4" cy="246.5" r="1.6"/>
<circle cx="463.7" cy="246.5" r="1.6"/>
<circle cx="440.1" cy="246.2" r="1.6"/>
<circle cx="430.5" cy="151.4" r="1.6"/>
<circle cx="428.9" cy="175.5" r="1.6"/>
<circle cx="420.4" cy="189.4" r="1.6"/>
<circle cx="415.4" cy="206.1" r="1.6"/>
<circle cx="422.8" cy="213.6" r="1.6"/>
<circle cx="418.7" cy="219.6" r="1.6"/>
<circle cx="450.8" cy="220.5" r="1.6"/>
<circle cx="453.4" cy="228.0" r="1.6"/>
<circle cx="435.7" cy="225.2" r="1.6"/>
<circle cx="485.5" cy="228.0" r="1.6"/>
<circle cx="479.4" cy="230.7" r="1.6"/>
<circle cx="428.2" cy="231.2" r="1.6"/>
<circle cx="444.7" cy="234.9" r="1.6"/>
<circle cx="458.9" cy="238.6" r="1.6"/>
<circle cx="468.3" cy="237.7" r="1.6"/>
<circle cx="473.0" cy="242.3" r="1.6"/>
<circle cx="480.1" cy="243.3" r="1.6"/>
<circle cx="489.5" cy="240.9" r="1.6"/>
<circle cx="486.0" cy="238.6" r="1.6"/>
<circle cx="463.6" cy="242.3" r="1.6"/>
<circle cx="456.5" cy="243.3" r="1.6"/>
<circle cx="449.4" cy="240.5" r="1.6"/>
<circle cx="440.0" cy="238.6" r="1.6"/>
<circle cx="432.9" cy="235.8" r="1.6"/>
<circle cx="414.0" cy="224.7" r="1.6"/>
<circle cx="412.1" cy="231.2" r="1.6"/>
<circle cx="491.9" cy="245.6" r="1.6"/>
<circle cx="482.5" cy="246.5" r="1.6"/>
<circle cx="373.2" cy="198.3" r="1.6"/>
<circle cx="378.9" cy="215.4" r="1.6"/>
<circle cx="374.8" cy="219.1" r="1.6"/>
<circle cx="371.5" cy="221.9" r="1.6"/>
<circle cx="379.8" cy="221.0" r="1.6"/>
<circle cx="363.0" cy="225.6" r="1.6"/>
<circle cx="373.9" cy="228.4" r="1.6"/>
<circle cx="378.6" cy="226.6" r="1.6"/>
<circle cx="342.0" cy="236.3" r="1.6"/>
<circle cx="352.7" cy="238.6" r="1.6"/>
<circle cx="350.3" cy="242.3" r="1.6"/>
<circle cx="319.6" cy="241.9" r="1.6"/>
<circle cx="329.1" cy="243.3" r="1.6"/>
<circle cx="325.5" cy="245.6" r="1.6"/>
<circle cx="340.9" cy="244.2" r="1.6"/>
<circle cx="357.4" cy="241.4" r="1.6"/>
<circle cx="362.1" cy="237.7" r="1.6"/>
<circle cx="366.8" cy="234.0" r="1.6"/>
<circle cx="381.0" cy="229.3" r="1.6"/>
<circle cx="382.9" cy="233.1" r="1.6"/>
<circle cx="369.2" cy="231.2" r="1.6"/>
<circle cx="359.7" cy="243.3" r="1.6"/>
<circle cx="345.6" cy="245.6" r="1.6"/>
<circle cx="353.8" cy="245.1" r="1.6"/>
<circle cx="336.1" cy="247.0" r="1.6"/>
<circle cx="332.6" cy="245.1" r="1.6"/>
</g>
<clipPath id="cpw"><rect x="294" y="248.6" width="210" height="12"/></clipPath>
<path d="M338.5,249.8 L343.2,248.6 L362.1,247.7 L376.3,247.0 L381.0,245.1 L383.3,241.4 L384.3,235.8 L385.7,229.3 L387.6,230.3 L390.4,235.8 L393.5,243.0 L395.1,247.4 L396.6,251.6 L397.5,253.7 L398.4,252.1 L399.4,250.2 L402.2,246.0 L404.6,242.3 L407.4,238.2 L409.3,237.2 L410.7,241.4 L412.1,245.1 L415.2,246.7 L418.7,247.4 L432.9,247.9 L451.8,248.4 L465.9,249.1 L468.3,249.8 L465.9,250.0 L454.8,250.7 L432.0,253.2 L418.7,254.4 L409.3,254.8 L397.5,255.0 L385.7,254.9 L376.3,254.4 L363.0,253.2 L340.2,250.5 Z" fill="#0d0d0d" clip-path="url(#cpw)"/>
<line x1="293.8" y1="142" x2="293.8" y2="259.2" stroke="#222" stroke-width="0.75"/>
<line x1="293.8" y1="259.2" x2="501.5" y2="259.2" stroke="#222" stroke-width="0.75"/>
<line x1="291.6" y1="254.4" x2="293.8" y2="254.4" stroke="#222" stroke-width="0.75"/>
<text x="289.2" y="256.8" font-size="6.8" text-anchor="end" font-weight="normal" font-style="normal" fill="#444" stroke="#444" stroke-width="0.13" >0</text>
<line x1="291.6" y1="208.0" x2="293.8" y2="208.0" stroke="#222" stroke-width="0.75"/>
<text x="289.2" y="210.4" font-size="6.8" text-anchor="end" font-weight="normal" font-style="normal" fill="#444" stroke="#444" stroke-width="0.13" >10</text>
<line x1="291.6" y1="161.60000000000002" x2="293.8" y2="161.60000000000002" stroke="#222" stroke-width="0.75"/>
<text x="289.2" y="164.00000000000003" font-size="6.8" text-anchor="end" font-weight="normal" font-style="normal" fill="#444" stroke="#444" stroke-width="0.13" >20</text>
<line x1="303.1" y1="259.2" x2="303.1" y2="261.4" stroke="#222" stroke-width="0.75"/>
<text x="301.90000000000003" y="269.9" font-size="6.8" text-anchor="middle" font-weight="normal" font-style="normal" fill="#444" stroke="#444" stroke-width="0.13" >−4</text>
<line x1="350.3" y1="259.2" x2="350.3" y2="261.4" stroke="#222" stroke-width="0.75"/>
<text x="349.1" y="269.9" font-size="6.8" text-anchor="middle" font-weight="normal" font-style="normal" fill="#444" stroke="#444" stroke-width="0.13" >−2</text>
<line x1="397.5" y1="259.2" x2="397.5" y2="261.4" stroke="#222" stroke-width="0.75"/>
<text x="397.5" y="269.9" font-size="6.8" text-anchor="middle" font-weight="normal" font-style="normal" fill="#444" stroke="#444" stroke-width="0.13" >0</text>
<line x1="444.7" y1="259.2" x2="444.7" y2="261.4" stroke="#222" stroke-width="0.75"/>
<text x="444.7" y="269.9" font-size="6.8" text-anchor="middle" font-weight="normal" font-style="normal" fill="#444" stroke="#444" stroke-width="0.13" >2</text>
<line x1="491.9" y1="259.2" x2="491.9" y2="261.4" stroke="#222" stroke-width="0.75"/>
<text x="491.9" y="269.9" font-size="6.8" text-anchor="middle" font-weight="normal" font-style="normal" fill="#444" stroke="#444" stroke-width="0.13" >4</text>
<line x1="385.7" y1="142" x2="385.7" y2="259.2" stroke="#111" stroke-width="1.15" stroke-dasharray="5.6,2.8"/>
<line x1="409.3" y1="142" x2="409.3" y2="259.2" stroke="#111" stroke-width="1.15" stroke-dasharray="5.6,2.8"/>
<line x1="293.8" y1="248.368" x2="501.5" y2="248.368" stroke="#111" stroke-width="1.15" stroke-dasharray="5.6,2.8"/>
<rect x="310.6" y="160.2" width="50.8" height="17.4" rx="8.7" fill="#fff" stroke="#222" stroke-width="0.7"/>
<text x="336.1" y="166.7" font-size="6.7" text-anchor="middle" font-weight="normal" font-style="normal" fill="#000" stroke="#000" stroke-width="0.13" >96</text>
<text x="336.1" y="174.3" font-size="6.7" text-anchor="middle" font-weight="normal" font-style="normal" fill="#000" stroke="#000" stroke-width="0.13" >downregulated</text>
<rect x="436.8" y="160.5" width="51.8" height="17.2" rx="8.6" fill="#fff" stroke="#222" stroke-width="0.7"/>
<text x="463.2" y="166.3" font-size="6.7" text-anchor="middle" font-weight="normal" font-style="normal" fill="#000" stroke="#000" stroke-width="0.13" >59</text>
<text x="463.4" y="174.6" font-size="6.7" text-anchor="middle" font-weight="normal" font-style="normal" fill="#000" stroke="#000" stroke-width="0.13" >upregulated</text>
<text transform="translate(271.6,191.5) rotate(-90)" font-size="7.2" text-anchor="middle" fill="#000" stroke="#000" stroke-width="0.13">−<tspan letter-spacing="0.9" dx="1.2">Log</tspan><tspan font-size="5.4" dy="1.5" dx="0.3" letter-spacing="0.3">10</tspan><tspan dy="-1.5" dx="1"> P</tspan></text>
<text x="366.2" y="283" font-size="7.2" fill="#000" stroke="#000" stroke-width="0.13"><tspan letter-spacing="0.9">Log</tspan><tspan font-size="5.4" dy="1.5" dx="0.3">2</tspan><tspan dy="-1.5"> fold change</tspan></text>
<line x1="385.7" y1="253" x2="385.7" y2="259.2" stroke="#111" stroke-width="1.15"/>
<line x1="409.3" y1="253" x2="409.3" y2="259.2" stroke="#111" stroke-width="1.15"/>
</g>
<g id="panelE">
<text x="0.3" y="303.8" font-size="15" font-weight="bold" fill="#000" stroke="#000" stroke-width="0.3">E</text>
<circle cx="79.2" cy="380.5" r="72" fill="#6ea287" stroke="#111" stroke-width="1.2"/>
<circle cx="142" cy="374.6" r="46.5" fill="#fae894" fill-opacity="0.4"/>
<circle cx="142" cy="374.6" r="46.5" fill="none" stroke="#111" stroke-width="1.2"/>
<text x="75.6" y="302.1" font-size="8.4" text-anchor="middle" font-weight="normal" font-style="normal" fill="#000" stroke="#000" stroke-width="0.13" >α<tspan font-style="italic">RFX6</tspan><tspan font-size="3.8" dy="-3.0">kd</tspan><tspan dy="3.0"> DEGs</tspan></text>
<text x="145.4" y="314.9" font-size="8.3" text-anchor="middle" font-weight="normal" font-style="normal" fill="#000" stroke="#000" stroke-width="0.13" >β<tspan font-style="italic">RFX6</tspan><tspan font-size="3.8" dy="-3.0">kd</tspan></text>
<text x="145.6" y="324.2" font-size="8.3" text-anchor="middle" font-weight="normal" font-style="normal" fill="#000" stroke="#000" stroke-width="0.13" >DEGs</text>
<text x="59.7" y="370.6" font-size="9.4" text-anchor="middle" font-weight="bold" font-style="normal" fill="#0a0a0a" stroke="#0a0a0a" stroke-width="0.3" >844</text>
<text x="38.2" y="381.1" font-size="6.3" text-anchor="start" font-weight="normal" font-style="italic" fill="#222" stroke="#222" stroke-width="0" >RFX5</text>
<text x="63.3" y="381.1" font-size="6.3" text-anchor="start" font-weight="normal" font-style="italic" fill="#222" stroke="#222" stroke-width="0" >GPR148</text>
<text x="38.2" y="388.65000000000003" font-size="6.3" text-anchor="start" font-weight="normal" font-style="italic" fill="#222" stroke="#222" stroke-width="0" >LOXL4</text>
<text x="63.3" y="388.65000000000003" font-size="6.3" text-anchor="start" font-weight="normal" font-style="italic" fill="#222" stroke="#222" stroke-width="0" >SSTR2</text>
<text x="38.2" y="396.20000000000005" font-size="6.3" text-anchor="start" font-weight="normal" font-style="italic" fill="#222" stroke="#222" stroke-width="0" >PLCE1</text>
<text x="63.3" y="396.20000000000005" font-size="6.3" text-anchor="start" font-weight="normal" font-style="italic" fill="#222" stroke="#222" stroke-width="0" >ISL1</text>
<text x="126.7" y="361.1" font-size="9.4" text-anchor="middle" font-weight="bold" font-style="normal" fill="#0a0a0a" stroke="#0a0a0a" stroke-width="0.3" >71</text>
<text x="127.2" y="367.4" font-size="6.3" text-anchor="middle" font-weight="normal" font-style="italic" fill="#222" stroke="#222" stroke-width="0" >RFX6</text>
<text x="127.2" y="375.02" font-size="6.3" text-anchor="middle" font-weight="normal" font-style="italic" fill="#222" stroke="#222" stroke-width="0" >CACNA1A</text>
<text x="127.2" y="382.64" font-size="6.3" text-anchor="middle" font-weight="normal" font-style="italic" fill="#222" stroke="#222" stroke-width="0" >CACNA1C</text>
<text x="127.2" y="390.26" font-size="6.3" text-anchor="middle" font-weight="normal" font-style="italic" fill="#222" stroke="#222" stroke-width="0" >SLC5A1</text>
<text x="127.2" y="397.88" font-size="6.3" text-anchor="middle" font-weight="normal" font-style="italic" fill="#222" stroke="#222" stroke-width="0" >BAIAP3</text>
<text x="127.2" y="405.5" font-size="6.3" text-anchor="middle" font-weight="normal" font-style="italic" fill="#222" stroke="#222" stroke-width="0" >NCAM1</text>
<text x="167.5" y="370.7" font-size="9.4" text-anchor="middle" font-weight="bold" font-style="normal" fill="#0a0a0a" stroke="#0a0a0a" stroke-width="0.3" >84</text>
<text x="167.5" y="381" font-size="6.3" text-anchor="middle" font-weight="normal" font-style="italic" fill="#222" stroke="#222" stroke-width="0" >ABCC8</text>
<text x="167.5" y="388.5" font-size="6.3" text-anchor="middle" font-weight="normal" font-style="italic" fill="#222" stroke="#222" stroke-width="0" >GCK</text>
</g>
<g id="panelF">
<text x="220.6" y="303.4" font-size="15" font-weight="bold" fill="#000" stroke="#000" stroke-width="0.3">F</text>
<line x1="326.4" y1="296.2" x2="326.4" y2="365.8" stroke="#222" stroke-width="0.75"/>
<line x1="326.4" y1="365.8" x2="453.2" y2="365.8" stroke="#222" stroke-width="0.75"/>
<rect x="326.4" y="300.90000000000003" width="103.8" height="7.8" fill="#7b1418"/>
<line x1="323.2" y1="304.8" x2="326.4" y2="304.8" stroke="#222" stroke-width="0.75"/>
<text x="321" y="306.8" font-size="5.72" text-anchor="end" font-weight="normal" font-style="normal" fill="#000" stroke="#000" stroke-width="0.13" >proteolysis</text>
<text x="433.3175" y="306.8" font-size="5.76" text-anchor="start" font-weight="normal" font-style="italic" fill="#000" stroke="#000" stroke-width="0.13" >HSPA1A, PROS1, ISG15, WFS1</text>
<rect x="326.4" y="314.1" width="63.4" height="7.8" fill="#7b1418"/>
<line x1="323.2" y1="318" x2="326.4" y2="318" stroke="#222" stroke-width="0.75"/>
<text x="321" y="320.0" font-size="5.72" text-anchor="end" font-weight="normal" font-style="normal" fill="#000" stroke="#000" stroke-width="0.13" >response to organic substance</text>
<text x="391.29999999999995" y="320.0" font-size="5.76" text-anchor="start" font-weight="normal" font-style="italic" fill="#000" stroke="#000" stroke-width="0.13" >SLC30A8, CACNA1A, ALDH1A1</text>
<rect x="326.4" y="327.1" width="37.2" height="7.8" fill="#7b1418"/>
<line x1="323.2" y1="331" x2="326.4" y2="331" stroke="#222" stroke-width="0.75"/>
<text x="321" y="333.0" font-size="5.72" text-anchor="end" font-weight="normal" font-style="normal" fill="#000" stroke="#000" stroke-width="0.13" >chaperone cofactor-dependent protein refolding</text>
<text x="365.4475" y="333.0" font-size="5.76" text-anchor="start" font-weight="normal" font-style="italic" fill="#000" stroke="#000" stroke-width="0.13" >HSPH1, HSPA1B, HSPA1A</text>
<rect x="326.4" y="340.5" width="31.7" height="7.8" fill="#7b1418"/>
<line x1="323.2" y1="344.4" x2="326.4" y2="344.4" stroke="#222" stroke-width="0.75"/>
<text x="321" y="346.4" font-size="5.72" text-anchor="end" font-weight="normal" font-style="normal" fill="#000" stroke="#000" stroke-width="0.13" >peptide hormone secretion</text>
<text x="360.09999999999997" y="346.4" font-size="5.76" text-anchor="start" font-weight="normal" font-style="italic" fill="#000" stroke="#000" stroke-width="0.13" >SLC30A8, KCNA5, RFX6, PTPRN2, SPINK1</text>
<rect x="326.4" y="353.20000000000005" width="30.1" height="7.8" fill="#7b1418"/>
<line x1="323.2" y1="357.1" x2="326.4" y2="357.1" stroke="#222" stroke-width="0.75"/>
<text x="321" y="359.1" font-size="5.72" text-anchor="end" font-weight="normal" font-style="normal" fill="#000" stroke="#000" stroke-width="0.13" >regulation of cell communication</text>
<text x="358.515" y="359.1" font-size="5.76" text-anchor="start" font-weight="normal" font-style="italic" fill="#000" stroke="#000" stroke-width="0.13" >NCAM1, TMEM64, STAT1, IFI6</text>
<line x1="326.4" y1="365.8" x2="326.4" y2="368.3" stroke="#222" stroke-width="0.75"/>
<text x="326.4" y="374.9" font-size="5.2" text-anchor="middle" font-weight="normal" font-style="normal" fill="#000" stroke="#000" stroke-width="0.13" >0</text>
<line x1="358.09999999999997" y1="365.8" x2="358.09999999999997" y2="368.3" stroke="#222" stroke-width="0.75"/>
<text x="358.09999999999997" y="374.9" font-size="5.2" text-anchor="middle" font-weight="normal" font-style="normal" fill="#000" stroke="#000" stroke-width="0.13" >2</text>
<line x1="389.79999999999995" y1="365.8" x2="389.79999999999995" y2="368.3" stroke="#222" stroke-width="0.75"/>
<text x="389.79999999999995" y="374.9" font-size="5.2" text-anchor="middle" font-weight="normal" font-style="normal" fill="#000" stroke="#000" stroke-width="0.13" >4</text>
<line x1="421.5" y1="365.8" x2="421.5" y2="368.3" stroke="#222" stroke-width="0.75"/>
<text x="421.5" y="374.9" font-size="5.2" text-anchor="middle" font-weight="normal" font-style="normal" fill="#000" stroke="#000" stroke-width="0.13" >6</text>
<line x1="453.2" y1="365.8" x2="453.2" y2="368.3" stroke="#222" stroke-width="0.75"/>
<text x="453.2" y="374.9" font-size="5.2" text-anchor="middle" font-weight="normal" font-style="normal" fill="#000" stroke="#000" stroke-width="0.13" >8</text>
<text x="392.3" y="381.2" font-size="5.9" text-anchor="middle" font-weight="normal" font-style="normal" fill="#000" stroke="#000" stroke-width="0.13" >-log10 (p<tspan font-size="3.8" dy="1.2">adj</tspan><tspan dy="-1.2">)</tspan></text>
</g>
<g id="panelG">
<text x="218.3" y="395.6" font-size="15" font-weight="bold" fill="#000" stroke="#000" stroke-width="0.3">G</text>
<line x1="327.0" y1="389.4" x2="327.0" y2="456.5" stroke="#222" stroke-width="0.75"/>
<line x1="327.0" y1="456.5" x2="449.25" y2="456.5" stroke="#222" stroke-width="0.75"/>
<rect x="327.0" y="395.05" width="115.6" height="9.5" fill="#7b1418"/>
<line x1="323.8" y1="399.8" x2="327.0" y2="399.8" stroke="#222" stroke-width="0.75"/>
<text x="321.8" y="401.8" font-size="5.72" text-anchor="end" font-weight="normal" font-style="normal" fill="#000" stroke="#000" stroke-width="0.13" >response to organic substance</text>
<text x="445.8485" y="401.8" font-size="5.72" text-anchor="start" font-weight="normal" font-style="italic" fill="#000" stroke="#000" stroke-width="0.13" >ABCC8, GCK, LRP5, PCSK9</text>
<rect x="327.0" y="410.25" width="78.7" height="9.5" fill="#7b1418"/>
<line x1="323.8" y1="415" x2="327.0" y2="415" stroke="#222" stroke-width="0.75"/>
<text x="321.8" y="417.0" font-size="5.72" text-anchor="end" font-weight="normal" font-style="normal" fill="#000" stroke="#000" stroke-width="0.13" >regulation of localization</text>
<text x="408.929" y="417.0" font-size="5.72" text-anchor="start" font-weight="normal" font-style="italic" fill="#000" stroke="#000" stroke-width="0.13" >CFTR, SOX9, PLVAP</text>
<rect x="327.0" y="425.85" width="74.1" height="9.5" fill="#7b1418"/>
<line x1="323.8" y1="430.6" x2="327.0" y2="430.6" stroke="#222" stroke-width="0.75"/>
<text x="321.8" y="432.6" font-size="5.72" text-anchor="end" font-weight="normal" font-style="normal" fill="#000" stroke="#000" stroke-width="0.13" >regulation of developmental process</text>
<text x="403.58349999999996" y="432.6" font-size="5.72" text-anchor="start" font-weight="normal" font-style="italic" fill="#000" stroke="#000" stroke-width="0.13" >CXCR4, SEZ6, WNT9A</text>
<rect x="327.0" y="441.55" width="53.3" height="9.5" fill="#7b1418"/>
<line x1="323.8" y1="446.3" x2="327.0" y2="446.3" stroke="#222" stroke-width="0.75"/>
<text x="321.8" y="448.3" font-size="5.72" text-anchor="end" font-weight="normal" font-style="normal" fill="#000" stroke="#000" stroke-width="0.13" >cell adhesion</text>
<text x="381.801" y="448.3" font-size="5.72" text-anchor="start" font-weight="normal" font-style="italic" fill="#000" stroke="#000" stroke-width="0.13" >VCAM1, APP, OLFM4</text>
<line x1="327.0" y1="456.5" x2="327.0" y2="458.7" stroke="#222" stroke-width="0.75"/>
<text x="327.0" y="465.3" font-size="5.2" text-anchor="middle" font-weight="normal" font-style="normal" fill="#000" stroke="#000" stroke-width="0.13" >0</text>
<line x1="351.45" y1="456.5" x2="351.45" y2="458.7" stroke="#222" stroke-width="0.75"/>
<text x="351.45" y="465.3" font-size="5.2" text-anchor="middle" font-weight="normal" font-style="normal" fill="#000" stroke="#000" stroke-width="0.13" >1</text>
<line x1="375.9" y1="456.5" x2="375.9" y2="458.7" stroke="#222" stroke-width="0.75"/>
<text x="375.9" y="465.3" font-size="5.2" text-anchor="middle" font-weight="normal" font-style="normal" fill="#000" stroke="#000" stroke-width="0.13" >2</text>
<line x1="400.35" y1="456.5" x2="400.35" y2="458.7" stroke="#222" stroke-width="0.75"/>
<text x="400.35" y="465.3" font-size="5.2" text-anchor="middle" font-weight="normal" font-style="normal" fill="#000" stroke="#000" stroke-width="0.13" >3</text>
<line x1="424.8" y1="456.5" x2="424.8" y2="458.7" stroke="#222" stroke-width="0.75"/>
<text x="424.8" y="465.3" font-size="5.2" text-anchor="middle" font-weight="normal" font-style="normal" fill="#000" stroke="#000" stroke-width="0.13" >4</text>
<line x1="449.25" y1="456.5" x2="449.25" y2="458.7" stroke="#222" stroke-width="0.75"/>
<text x="449.25" y="465.3" font-size="5.2" text-anchor="middle" font-weight="normal" font-style="normal" fill="#000" stroke="#000" stroke-width="0.13" >5</text>
<text x="394.2" y="471.4" font-size="5.9" text-anchor="middle" font-weight="normal" font-style="normal" fill="#000" stroke="#000" stroke-width="0.13" >-log10 (p<tspan font-size="3.8" dy="1.2">adj</tspan><tspan dy="-1.2">)</tspan></text>
</g>
</svg>
</body></html>
